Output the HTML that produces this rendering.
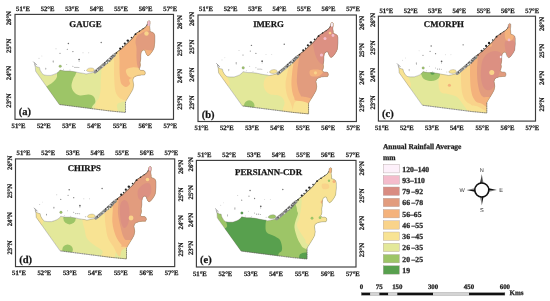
<!DOCTYPE html>
<html><head><meta charset="utf-8"><title>Annual Rainfall Average</title>
<style>html,body{margin:0;padding:0;background:#fff;}svg{display:block;}</style></head>
<body><svg width="550" height="301" viewBox="0 0 550 301">
<rect width="550" height="301" fill="#fff"/>
<clipPath id="cpa"><path d="M19.5,49.1 L20.5,51.6 L22.5,52.6 L24.5,53.1 L25.0,55.6 L27.0,59.0 L29.0,60.6 L32.0,61.0 L36.0,61.0 L39.0,60.0 L41.4,59.0 L44.0,57.1 L45.0,55.6 L47.0,56.1 L50.0,56.6 L54.0,56.6 L58.0,57.1 L61.0,57.6 L63.0,58.1 L66.0,58.6 L69.0,59.0 L71.0,59.6 L74.0,59.0 L78.0,58.1 L80.0,57.1 L82.0,55.6 L84.6,53.2 L87.5,50.4 L93.3,45.6 L98.3,40.6 L102.5,37.2 L106.6,34.3 L110.8,30.2 L114.1,27.2 L117.4,23.9 L120.4,19.5 L122.8,17.9 L125.2,16.3 L127.6,14.7 L129.9,13.1 L131.5,11.6 L132.3,9.6 L132.7,7.2 L133.9,6.0 L135.1,6.8 L135.1,9.6 L134.7,12.0 L135.1,15.1 L135.1,17.1 L137.5,17.9 L139.1,19.1 L139.9,21.5 L139.9,26.9 L139.5,30.2 L139.1,33.6 L137.9,36.1 L136.2,38.6 L134.5,40.6 L132.9,41.5 L131.6,40.2 L130.8,38.6 L130.0,36.1 L128.7,35.6 L127.0,36.5 L126.2,38.1 L125.8,41.0 L125.8,44.4 L125.1,48.1 L125.4,50.6 L125.0,53.1 L124.1,54.7 L125.8,56.0 L128.3,56.0 L129.9,56.8 L130.3,58.9 L129.5,60.6 L126.6,60.6 L123.3,61.0 L120.8,61.8 L118.7,63.0 L117.9,65.5 L118.3,68.0 L118.7,70.6 L118.0,74.6 L116.4,77.6 L114.0,81.6 L111.5,85.6 L110.5,87.6 L110.5,98.1 L95.0,96.6 L44.3,90.1 L20.6,56.8 L20.3,52.6Z"/></clipPath>
<g transform="translate(15.0,14.4) scale(1.0000,1.0000)">
<circle cx="53.4" cy="29.2" r="0.75" fill="#6a6a6a"/>
<circle cx="86.2" cy="28.1" r="0.7" fill="#6a6a6a"/>
<circle cx="52.3" cy="34.9" r="0.6" fill="#909090"/>
<circle cx="57.9" cy="37.2" r="0.65" fill="#808080"/>
<circle cx="64.1" cy="45.1" r="0.85" fill="#606060"/>
<circle cx="64.1" cy="46.8" r="0.45" fill="#888"/>
<circle cx="45.0" cy="38.9" r="0.6" fill="#888"/>
<circle cx="38.2" cy="46.8" r="0.6" fill="#808080"/>
<circle cx="38.2" cy="48.0" r="0.45" fill="#909090"/>
<circle cx="30.8" cy="53.8" r="0.55" fill="#888"/>
<circle cx="30.8" cy="54.8" r="0.45" fill="#999"/>
<circle cx="41.0" cy="34.3" r="0.5" fill="#c0c0c0"/>
<circle cx="24.0" cy="43.9" r="0.5" fill="#c0c0c0"/>
<circle cx="26.9" cy="41.6" r="0.45" fill="#c8c8c8"/>
<circle cx="68.0" cy="38.3" r="0.5" fill="#c8c8c8"/>
<circle cx="73.7" cy="38.3" r="0.5" fill="#c8c8c8"/>
<circle cx="57.9" cy="51.8" r="0.5" fill="#999"/>
<circle cx="51.7" cy="50.1" r="0.5" fill="#bbb"/>
<circle cx="60.0" cy="53.0" r="0.6" fill="#9a9a9a"/>
<circle cx="62.0" cy="53.0" r="0.6" fill="#9a9a9a"/>
<circle cx="63.8" cy="53.2" r="0.5" fill="#9a9a9a"/>
<circle cx="69.5" cy="56.1" r="0.5" fill="#aaa"/>
<circle cx="48.5" cy="54.8" r="0.45" fill="#aaa"/>
<circle cx="55.0" cy="55.6" r="0.45" fill="#aaa"/>
<path d="M18.4,47.3 L21.8,50.7" stroke="#555" stroke-width="0.6"/>
<g clip-path="url(#cpa)">
<path d="M19.5,49.1 L20.5,51.6 L22.5,52.6 L24.5,53.1 L25.0,55.6 L27.0,59.0 L29.0,60.6 L32.0,61.0 L36.0,61.0 L39.0,60.0 L41.4,59.0 L44.0,57.1 L45.0,55.6 L47.0,56.1 L50.0,56.6 L54.0,56.6 L58.0,57.1 L61.0,57.6 L63.0,58.1 L66.0,58.6 L69.0,59.0 L71.0,59.6 L74.0,59.0 L78.0,58.1 L80.0,57.1 L82.0,55.6 L84.6,53.2 L87.5,50.4 L93.3,45.6 L98.3,40.6 L102.5,37.2 L106.6,34.3 L110.8,30.2 L114.1,27.2 L117.4,23.9 L120.4,19.5 L122.8,17.9 L125.2,16.3 L127.6,14.7 L129.9,13.1 L131.5,11.6 L132.3,9.6 L132.7,7.2 L133.9,6.0 L135.1,6.8 L135.1,9.6 L134.7,12.0 L135.1,15.1 L135.1,17.1 L137.5,17.9 L139.1,19.1 L139.9,21.5 L139.9,26.9 L139.5,30.2 L139.1,33.6 L137.9,36.1 L136.2,38.6 L134.5,40.6 L132.9,41.5 L131.6,40.2 L130.8,38.6 L130.0,36.1 L128.7,35.6 L127.0,36.5 L126.2,38.1 L125.8,41.0 L125.8,44.4 L125.1,48.1 L125.4,50.6 L125.0,53.1 L124.1,54.7 L125.8,56.0 L128.3,56.0 L129.9,56.8 L130.3,58.9 L129.5,60.6 L126.6,60.6 L123.3,61.0 L120.8,61.8 L118.7,63.0 L117.9,65.5 L118.3,68.0 L118.7,70.6 L118.0,74.6 L116.4,77.6 L114.0,81.6 L111.5,85.6 L110.5,87.6 L110.5,98.1 L95.0,96.6 L44.3,90.1 L20.6,56.8 L20.3,52.6Z" fill="#e3e89a"/>
<path d="M43.5,51.6 C46.9,49.7 59.1,50.3 62.0,51.6 C64.9,52.9 61.4,57.2 60.8,59.4 C60.2,61.6 58.9,62.6 58.2,64.6 C57.5,66.6 56.4,69.4 56.5,71.6 C56.6,73.8 57.6,76.0 59.0,77.6 C60.4,79.2 62.5,80.6 65.0,81.0 C67.5,81.4 71.4,79.8 73.7,80.1 C76.0,80.4 77.9,81.3 79.0,82.6 C80.1,83.9 80.6,86.3 80.3,87.9 C80.0,89.5 78.1,90.2 77.2,92.2 C76.3,94.1 81.2,98.4 75.0,99.6 C68.8,100.8 48.3,103.3 40.0,99.6 C31.7,95.9 26.3,82.3 25.0,77.6 C23.7,72.9 30.2,73.2 32.3,71.6 C34.4,70.0 35.9,69.5 37.5,68.1 C39.1,66.6 40.8,65.6 41.8,62.9 C42.8,60.1 40.1,53.5 43.5,51.6Z" fill="#9dc567"/>
<path d="M86.0,45.6 C86.1,55.3 86.5,50.3 86.5,53.6 C86.5,56.9 86.0,61.9 85.8,65.6 C85.6,69.3 85.8,72.6 85.5,75.6 C85.2,78.6 84.8,81.4 84.0,83.6 C83.2,85.8 81.7,85.6 81.0,88.6 C80.3,91.6 76.6,99.4 80.0,101.6 C83.4,103.8 97.8,103.4 101.5,101.6 C105.2,99.8 101.2,92.8 102.0,90.6 C102.8,88.3 104.5,88.7 106.0,88.1 C107.5,87.5 103.7,87.5 111.0,87.1 C118.3,86.7 143.5,100.8 150.0,85.6 C156.5,70.3 160.7,10.6 150.0,-4.4 C139.3,-19.4 96.7,-12.7 86.0,-4.4 C75.3,3.9 85.9,35.9 86.0,45.6Z" fill="#f8e393"/>
<path d="M98.0,37.6 C98.2,45.9 98.8,42.6 99.0,45.6 C99.2,48.6 99.0,52.3 99.0,55.6 C99.0,58.9 99.0,62.0 99.3,65.6 C99.5,69.2 99.7,74.3 100.5,77.2 C101.3,80.1 102.5,81.5 104.0,83.0 C105.5,84.5 108.0,85.5 109.8,85.9 C111.6,86.3 108.3,85.6 115.0,85.6 C121.7,85.5 144.2,100.6 150.0,85.6 C155.8,70.6 158.7,10.6 150.0,-4.4 C141.3,-19.4 106.7,-11.4 98.0,-4.4 C89.3,2.6 97.8,29.3 98.0,37.6Z" fill="#f9d38a"/>
<path d="M104.0,31.6 C104.1,39.9 104.4,41.6 104.5,45.6 C104.6,49.6 104.4,52.6 104.5,55.6 C104.6,58.6 104.7,61.3 105.0,63.6 C105.3,65.9 105.5,68.1 106.5,69.6 C107.5,71.1 109.6,72.6 111.0,72.6 C112.4,72.6 114.0,71.1 115.0,69.6 C116.0,68.1 111.2,64.8 117.0,63.6 C122.8,62.4 144.5,73.9 150.0,62.6 C155.5,51.3 157.7,6.8 150.0,-4.4 C142.3,-15.6 111.7,-10.4 104.0,-4.4 C96.3,1.6 103.9,23.3 104.0,31.6Z" fill="#f4b27c"/>
<path d="M111.0,55.6 C111.7,54.2 114.8,53.4 117.0,53.1 C119.2,52.8 121.7,53.0 124.0,53.6 C126.3,54.2 129.8,55.4 131.0,56.6 C132.2,57.8 132.2,59.6 131.0,60.6 C129.8,61.6 126.2,62.1 124.0,62.6 C121.8,63.1 119.8,63.8 118.0,63.6 C116.2,63.4 114.2,62.9 113.0,61.6 C111.8,60.3 110.3,57.0 111.0,55.6Z" fill="#f9d38a"/>
<path d="M122.0,21.6 C122.9,20.2 124.5,19.9 126.0,19.1 C127.5,18.3 129.3,17.0 131.0,16.6 C132.7,16.2 134.3,16.1 136.0,16.6 C137.7,17.1 140.2,16.4 141.0,19.6 C141.8,22.8 141.7,32.8 141.0,35.6 C140.3,38.4 138.5,36.6 137.0,36.6 C135.5,36.6 133.5,35.8 132.0,35.6 C130.5,35.4 129.0,34.8 128.0,35.6 C127.0,36.4 126.2,38.1 126.0,40.6 C125.8,43.1 126.7,48.3 126.5,50.6 C126.3,52.9 125.7,54.4 125.0,54.6 C124.3,54.8 123.1,53.4 122.5,51.6 C121.9,49.8 121.7,46.6 121.5,43.6 C121.3,40.6 121.7,36.3 121.5,33.6 C121.3,30.9 120.4,29.6 120.5,27.6 C120.6,25.6 121.1,23.0 122.0,21.6Z" fill="#e29c7e"/>
<path d="M131.0,37.6 C131.5,36.6 133.8,36.2 135.0,36.1 C136.2,36.0 137.8,36.2 138.0,37.1 C138.2,38.0 137.0,40.8 136.0,41.6 C135.0,42.4 132.8,42.8 132.0,42.1 C131.2,41.4 130.5,38.6 131.0,37.6Z" fill="#f4b27c"/>
<ellipse cx="131.5" cy="19.1" rx="2.20" ry="2.20" fill="#f9d38a"/>
<path d="M132.2,5.1 C132.8,4.1 135.4,4.1 136.0,5.1 C136.6,6.1 136.2,10.2 135.6,11.2 C135.0,12.2 133.1,12.2 132.5,11.2 C131.9,10.2 131.6,6.1 132.2,5.1Z" fill="#f4bccc"/>
</g>
<path d="M19.5,49.1 L20.5,51.6 L22.5,52.6 L24.5,53.1 L25.0,55.6 L27.0,59.0 L29.0,60.6 L32.0,61.0 L36.0,61.0 L39.0,60.0 L41.4,59.0 L44.0,57.1 L45.0,55.6 L47.0,56.1 L50.0,56.6 L54.0,56.6 L58.0,57.1 L61.0,57.6 L63.0,58.1 L66.0,58.6 L69.0,59.0 L71.0,59.6 L74.0,59.0 L78.0,58.1 L80.0,57.1 L82.0,55.6 L84.6,53.2 L87.5,50.4 L93.3,45.6 L98.3,40.6 L102.5,37.2 L106.6,34.3 L110.8,30.2 L114.1,27.2 L117.4,23.9 L120.4,19.5 L122.8,17.9 L125.2,16.3 L127.6,14.7 L129.9,13.1 L131.5,11.6 L132.3,9.6 L132.7,7.2 L133.9,6.0 L135.1,6.8 L135.1,9.6 L134.7,12.0 L135.1,15.1 L135.1,17.1 L137.5,17.9 L139.1,19.1 L139.9,21.5 L139.9,26.9 L139.5,30.2 L139.1,33.6 L137.9,36.1 L136.2,38.6 L134.5,40.6 L132.9,41.5 L131.6,40.2 L130.8,38.6 L130.0,36.1 L128.7,35.6 L127.0,36.5 L126.2,38.1 L125.8,41.0 L125.8,44.4 L125.1,48.1 L125.4,50.6 L125.0,53.1 L124.1,54.7 L125.8,56.0 L128.3,56.0 L129.9,56.8 L130.3,58.9 L129.5,60.6 L126.6,60.6 L123.3,61.0 L120.8,61.8 L118.7,63.0 L117.9,65.5 L118.3,68.0 L118.7,70.6 L118.0,74.6 L116.4,77.6 L114.0,81.6 L111.5,85.6 L110.5,87.6 L110.5,98.1 L95.0,96.6 L44.3,90.1 L20.6,56.8 L20.3,52.6Z" fill="none" stroke="#6b6b6b" stroke-width="0.35"/>
<path d="M110.5,87.6 L110.5,98.1 L95.0,96.6 L44.3,90.1" fill="none" stroke="#555" stroke-width="0.6" stroke-dasharray="1 0.8"/>
<path d="M80.0,57.6 L83.0,55.1 L86.0,52.6 L89.0,50.1 L92.0,47.4 L95.0,44.6 L97.5,42.2 L99.5,40.4" fill="none" stroke="#939393" stroke-width="3.0" stroke-linecap="round"/>
<circle cx="86.0" cy="52.3" r="0.72" fill="#333"/>
<circle cx="82.2" cy="56.9" r="0.37" fill="#444"/>
<circle cx="88.1" cy="49.0" r="0.38" fill="#6a6a6a"/>
<circle cx="92.9" cy="47.8" r="0.78" fill="#fff"/>
<circle cx="91.9" cy="48.4" r="0.60" fill="#333"/>
<circle cx="82.6" cy="55.4" r="0.49" fill="#fff"/>
<circle cx="96.0" cy="43.1" r="0.43" fill="#d0d0d0"/>
<circle cx="82.6" cy="56.0" r="0.44" fill="#fff"/>
<circle cx="94.1" cy="44.8" r="0.77" fill="#fff"/>
<circle cx="87.0" cy="50.5" r="0.46" fill="#8fa070"/>
<circle cx="92.1" cy="48.2" r="0.55" fill="#d0d0d0"/>
<circle cx="91.8" cy="46.7" r="0.69" fill="#444"/>
<circle cx="83.2" cy="53.8" r="0.38" fill="#d0d0d0"/>
<circle cx="92.4" cy="48.4" r="0.66" fill="#555"/>
<circle cx="92.7" cy="46.8" r="0.39" fill="#8fa070"/>
<circle cx="86.1" cy="51.8" r="0.67" fill="#d0d0d0"/>
<circle cx="94.8" cy="46.7" r="0.67" fill="#555"/>
<circle cx="97.6" cy="42.9" r="0.43" fill="#555"/>
<circle cx="81.4" cy="56.2" r="0.68" fill="#444"/>
<circle cx="89.4" cy="50.6" r="0.55" fill="#444"/>
<circle cx="92.5" cy="48.6" r="0.60" fill="#8fa070"/>
<circle cx="96.0" cy="45.2" r="0.78" fill="#6a6a6a"/>
<circle cx="82.4" cy="54.3" r="0.36" fill="#444"/>
<circle cx="96.3" cy="42.1" r="0.54" fill="#444"/>
<circle cx="87.9" cy="52.2" r="0.74" fill="#d0d0d0"/>
<circle cx="99.2" cy="41.6" r="0.75" fill="#6a6a6a"/>
<circle cx="97.0" cy="44.2" r="0.53" fill="#6a6a6a"/>
<circle cx="88.2" cy="50.5" r="0.38" fill="#444"/>
<circle cx="83.6" cy="53.6" r="0.40" fill="#333"/>
<circle cx="92.0" cy="48.6" r="0.36" fill="#fff"/>
<circle cx="98.0" cy="41.1" r="0.78" fill="#555"/>
<circle cx="92.6" cy="45.9" r="0.80" fill="#6a6a6a"/>
<circle cx="89.7" cy="48.4" r="0.69" fill="#333"/>
<circle cx="95.4" cy="44.6" r="0.36" fill="#fff"/>
<circle cx="98.9" cy="40.2" r="0.76" fill="#fff"/>
<circle cx="95.3" cy="44.2" r="0.66" fill="#333"/>
<circle cx="85.2" cy="52.2" r="0.45" fill="#8fa070"/>
<circle cx="91.4" cy="48.3" r="0.72" fill="#fff"/>
<circle cx="100.1" cy="41.3" r="0.53" fill="#8fa070"/>
<circle cx="95.8" cy="43.1" r="0.36" fill="#d0d0d0"/>
<path d="M71.5,56.1 C71.4,55.5 72.6,54.4 73.5,54.0 C74.4,53.6 76.0,53.4 77.0,53.6 C78.0,53.8 79.0,54.4 79.2,55.0 C79.4,55.6 78.9,56.6 78.0,57.0 C77.1,57.4 75.1,57.5 74.0,57.4 C72.9,57.2 71.6,56.7 71.5,56.1Z" fill="#f8e393" stroke="#777" stroke-width="0.3"/>
<circle cx="45.2" cy="51.8" r="1.3" fill="#9dc567" stroke="#777" stroke-width="0.2"/>
<path d="M98.3,40.6 L102.5,37.2 L106.6,34.3 L110.8,30.2 L114.1,27.2 L117.4,23.9 L120.4,19.5 L122.8,17.9 L125.2,16.3 L127.6,14.7 L129.9,13.1 L131.5,11.6 L132.3,9.6" fill="none" stroke="#333" stroke-width="0.5"/>
<circle cx="101.5" cy="38.6" r="0.8" fill="#222"/>
<circle cx="105.2" cy="34.2" r="1.1" fill="#222"/>
<circle cx="107.5" cy="32.1" r="0.7" fill="#222"/>
<circle cx="109.8" cy="29.2" r="1.1" fill="#222"/>
<circle cx="112.8" cy="26.2" r="1.2" fill="#222"/>
<circle cx="116.5" cy="23.2" r="0.8" fill="#222"/>
<circle cx="120.5" cy="19.8" r="0.9" fill="#222"/>
<circle cx="124.5" cy="16.8" r="0.7" fill="#222"/>
<circle cx="128.0" cy="14.4" r="0.5" fill="#222"/>
</g>
<rect x="15" y="14.4" width="158.5" height="104.9" fill="none" stroke="#3c3c3c" stroke-width="1.15"/>
<text x="23.0" y="10.7" text-anchor="middle" style="font-family:'Liberation Serif','Times New Roman',serif;font-weight:bold;stroke:#222;stroke-width:0.25px;text-rendering:geometricPrecision;font-size:6.7px" fill="#222">51°E</text>
<text x="18.5" y="127.8" text-anchor="middle" style="font-family:'Liberation Serif','Times New Roman',serif;font-weight:bold;stroke:#222;stroke-width:0.25px;text-rendering:geometricPrecision;font-size:6.7px" fill="#222">51°E</text>
<text x="47.6" y="10.7" text-anchor="middle" style="font-family:'Liberation Serif','Times New Roman',serif;font-weight:bold;stroke:#222;stroke-width:0.25px;text-rendering:geometricPrecision;font-size:6.7px" fill="#222">52°E</text>
<text x="43.8" y="127.8" text-anchor="middle" style="font-family:'Liberation Serif','Times New Roman',serif;font-weight:bold;stroke:#222;stroke-width:0.25px;text-rendering:geometricPrecision;font-size:6.7px" fill="#222">52°E</text>
<text x="72.1" y="10.7" text-anchor="middle" style="font-family:'Liberation Serif','Times New Roman',serif;font-weight:bold;stroke:#222;stroke-width:0.25px;text-rendering:geometricPrecision;font-size:6.7px" fill="#222">53°E</text>
<text x="69.1" y="127.8" text-anchor="middle" style="font-family:'Liberation Serif','Times New Roman',serif;font-weight:bold;stroke:#222;stroke-width:0.25px;text-rendering:geometricPrecision;font-size:6.7px" fill="#222">53°E</text>
<text x="96.6" y="10.7" text-anchor="middle" style="font-family:'Liberation Serif','Times New Roman',serif;font-weight:bold;stroke:#222;stroke-width:0.25px;text-rendering:geometricPrecision;font-size:6.7px" fill="#222">54°E</text>
<text x="94.2" y="127.8" text-anchor="middle" style="font-family:'Liberation Serif','Times New Roman',serif;font-weight:bold;stroke:#222;stroke-width:0.25px;text-rendering:geometricPrecision;font-size:6.7px" fill="#222">54°E</text>
<text x="121.1" y="10.7" text-anchor="middle" style="font-family:'Liberation Serif','Times New Roman',serif;font-weight:bold;stroke:#222;stroke-width:0.25px;text-rendering:geometricPrecision;font-size:6.7px" fill="#222">55°E</text>
<text x="119.8" y="127.8" text-anchor="middle" style="font-family:'Liberation Serif','Times New Roman',serif;font-weight:bold;stroke:#222;stroke-width:0.25px;text-rendering:geometricPrecision;font-size:6.7px" fill="#222">55°E</text>
<text x="145.6" y="10.7" text-anchor="middle" style="font-family:'Liberation Serif','Times New Roman',serif;font-weight:bold;stroke:#222;stroke-width:0.25px;text-rendering:geometricPrecision;font-size:6.7px" fill="#222">56°E</text>
<text x="145.3" y="127.8" text-anchor="middle" style="font-family:'Liberation Serif','Times New Roman',serif;font-weight:bold;stroke:#222;stroke-width:0.25px;text-rendering:geometricPrecision;font-size:6.7px" fill="#222">56°E</text>
<text x="170.2" y="10.7" text-anchor="middle" style="font-family:'Liberation Serif','Times New Roman',serif;font-weight:bold;stroke:#222;stroke-width:0.25px;text-rendering:geometricPrecision;font-size:6.7px" fill="#222">57°E</text>
<text x="170.4" y="127.8" text-anchor="middle" style="font-family:'Liberation Serif','Times New Roman',serif;font-weight:bold;stroke:#222;stroke-width:0.25px;text-rendering:geometricPrecision;font-size:6.7px" fill="#222">57°E</text>
<text transform="translate(9.2,18.2) rotate(-90)" x="0" y="2.2" text-anchor="middle" style="font-family:'Liberation Serif','Times New Roman',serif;font-weight:bold;stroke:#222;stroke-width:0.25px;text-rendering:geometricPrecision;font-size:6.7px" fill="#222">26°N</text>
<text transform="translate(179.3,22.2) rotate(-90)" x="0" y="2.2" text-anchor="middle" style="font-family:'Liberation Serif','Times New Roman',serif;font-weight:bold;stroke:#222;stroke-width:0.25px;text-rendering:geometricPrecision;font-size:6.7px" fill="#222">26°N</text>
<text transform="translate(9.2,45.8) rotate(-90)" x="0" y="2.2" text-anchor="middle" style="font-family:'Liberation Serif','Times New Roman',serif;font-weight:bold;stroke:#222;stroke-width:0.25px;text-rendering:geometricPrecision;font-size:6.7px" fill="#222">25°N</text>
<text transform="translate(179.3,49.1) rotate(-90)" x="0" y="2.2" text-anchor="middle" style="font-family:'Liberation Serif','Times New Roman',serif;font-weight:bold;stroke:#222;stroke-width:0.25px;text-rendering:geometricPrecision;font-size:6.7px" fill="#222">25°N</text>
<text transform="translate(9.2,73.1) rotate(-90)" x="0" y="2.2" text-anchor="middle" style="font-family:'Liberation Serif','Times New Roman',serif;font-weight:bold;stroke:#222;stroke-width:0.25px;text-rendering:geometricPrecision;font-size:6.7px" fill="#222">24°N</text>
<text transform="translate(179.3,76.1) rotate(-90)" x="0" y="2.2" text-anchor="middle" style="font-family:'Liberation Serif','Times New Roman',serif;font-weight:bold;stroke:#222;stroke-width:0.25px;text-rendering:geometricPrecision;font-size:6.7px" fill="#222">24°N</text>
<text transform="translate(9.2,100.6) rotate(-90)" x="0" y="2.2" text-anchor="middle" style="font-family:'Liberation Serif','Times New Roman',serif;font-weight:bold;stroke:#222;stroke-width:0.25px;text-rendering:geometricPrecision;font-size:6.7px" fill="#222">23°N</text>
<text transform="translate(179.3,102.7) rotate(-90)" x="0" y="2.2" text-anchor="middle" style="font-family:'Liberation Serif','Times New Roman',serif;font-weight:bold;stroke:#222;stroke-width:0.25px;text-rendering:geometricPrecision;font-size:6.7px" fill="#222">23°N</text>
<text x="85.45" y="26.8" text-anchor="middle" style="font-family:'Liberation Serif','Times New Roman',serif;font-weight:bold;stroke:#222;stroke-width:0.25px;text-rendering:geometricPrecision;font-size:8.8px" fill="#111">GAUGE</text>
<text x="18.7" y="115.4" style="font-family:'Liberation Serif','Times New Roman',serif;font-weight:bold;stroke:#222;stroke-width:0.25px;text-rendering:geometricPrecision;font-size:10.5px" fill="#111">(a)</text>
<clipPath id="cpb"><path d="M19.5,49.1 L20.5,51.6 L22.5,52.6 L24.5,53.1 L25.0,55.6 L27.0,59.0 L29.0,60.6 L32.0,61.0 L36.0,61.0 L39.0,60.0 L41.4,59.0 L44.0,57.1 L45.0,55.6 L47.0,56.1 L50.0,56.6 L54.0,56.6 L58.0,57.1 L61.0,57.6 L63.0,58.1 L66.0,58.6 L69.0,59.0 L71.0,59.6 L74.0,59.0 L78.0,58.1 L80.0,57.1 L82.0,55.6 L84.6,53.2 L87.5,50.4 L93.3,45.6 L98.3,40.6 L102.5,37.2 L106.6,34.3 L110.8,30.2 L114.1,27.2 L117.4,23.9 L120.4,19.5 L122.8,17.9 L125.2,16.3 L127.6,14.7 L129.9,13.1 L131.5,11.6 L132.3,9.6 L132.7,7.2 L133.9,6.0 L135.1,6.8 L135.1,9.6 L134.7,12.0 L135.1,15.1 L135.1,17.1 L137.5,17.9 L139.1,19.1 L139.9,21.5 L139.9,26.9 L139.5,30.2 L139.1,33.6 L137.9,36.1 L136.2,38.6 L134.5,40.6 L132.9,41.5 L131.6,40.2 L130.8,38.6 L130.0,36.1 L128.7,35.6 L127.0,36.5 L126.2,38.1 L125.8,41.0 L125.8,44.4 L125.1,48.1 L125.4,50.6 L125.0,53.1 L124.1,54.7 L125.8,56.0 L128.3,56.0 L129.9,56.8 L130.3,58.9 L129.5,60.6 L126.6,60.6 L123.3,61.0 L120.8,61.8 L118.7,63.0 L117.9,65.5 L118.3,68.0 L118.7,70.6 L118.0,74.6 L116.4,77.6 L114.0,81.6 L111.5,85.6 L110.5,87.6 L110.5,98.1 L95.0,96.6 L44.3,90.1 L20.6,56.8 L20.3,52.6Z"/></clipPath>
<g transform="translate(197.95,16.33) scale(1.0011,0.9946)">
<circle cx="53.4" cy="29.2" r="0.75" fill="#6a6a6a"/>
<circle cx="86.2" cy="28.1" r="0.7" fill="#6a6a6a"/>
<circle cx="52.3" cy="34.9" r="0.6" fill="#909090"/>
<circle cx="57.9" cy="37.2" r="0.65" fill="#808080"/>
<circle cx="64.1" cy="45.1" r="0.85" fill="#606060"/>
<circle cx="64.1" cy="46.8" r="0.45" fill="#888"/>
<circle cx="45.0" cy="38.9" r="0.6" fill="#888"/>
<circle cx="38.2" cy="46.8" r="0.6" fill="#808080"/>
<circle cx="38.2" cy="48.0" r="0.45" fill="#909090"/>
<circle cx="30.8" cy="53.8" r="0.55" fill="#888"/>
<circle cx="30.8" cy="54.8" r="0.45" fill="#999"/>
<circle cx="41.0" cy="34.3" r="0.5" fill="#c0c0c0"/>
<circle cx="24.0" cy="43.9" r="0.5" fill="#c0c0c0"/>
<circle cx="26.9" cy="41.6" r="0.45" fill="#c8c8c8"/>
<circle cx="68.0" cy="38.3" r="0.5" fill="#c8c8c8"/>
<circle cx="73.7" cy="38.3" r="0.5" fill="#c8c8c8"/>
<circle cx="57.9" cy="51.8" r="0.5" fill="#999"/>
<circle cx="51.7" cy="50.1" r="0.5" fill="#bbb"/>
<circle cx="60.0" cy="53.0" r="0.6" fill="#9a9a9a"/>
<circle cx="62.0" cy="53.0" r="0.6" fill="#9a9a9a"/>
<circle cx="63.8" cy="53.2" r="0.5" fill="#9a9a9a"/>
<circle cx="69.5" cy="56.1" r="0.5" fill="#aaa"/>
<circle cx="48.5" cy="54.8" r="0.45" fill="#aaa"/>
<circle cx="55.0" cy="55.6" r="0.45" fill="#aaa"/>
<path d="M18.4,47.3 L21.8,50.7" stroke="#555" stroke-width="0.6"/>
<g clip-path="url(#cpb)">
<path d="M19.5,49.1 L20.5,51.6 L22.5,52.6 L24.5,53.1 L25.0,55.6 L27.0,59.0 L29.0,60.6 L32.0,61.0 L36.0,61.0 L39.0,60.0 L41.4,59.0 L44.0,57.1 L45.0,55.6 L47.0,56.1 L50.0,56.6 L54.0,56.6 L58.0,57.1 L61.0,57.6 L63.0,58.1 L66.0,58.6 L69.0,59.0 L71.0,59.6 L74.0,59.0 L78.0,58.1 L80.0,57.1 L82.0,55.6 L84.6,53.2 L87.5,50.4 L93.3,45.6 L98.3,40.6 L102.5,37.2 L106.6,34.3 L110.8,30.2 L114.1,27.2 L117.4,23.9 L120.4,19.5 L122.8,17.9 L125.2,16.3 L127.6,14.7 L129.9,13.1 L131.5,11.6 L132.3,9.6 L132.7,7.2 L133.9,6.0 L135.1,6.8 L135.1,9.6 L134.7,12.0 L135.1,15.1 L135.1,17.1 L137.5,17.9 L139.1,19.1 L139.9,21.5 L139.9,26.9 L139.5,30.2 L139.1,33.6 L137.9,36.1 L136.2,38.6 L134.5,40.6 L132.9,41.5 L131.6,40.2 L130.8,38.6 L130.0,36.1 L128.7,35.6 L127.0,36.5 L126.2,38.1 L125.8,41.0 L125.8,44.4 L125.1,48.1 L125.4,50.6 L125.0,53.1 L124.1,54.7 L125.8,56.0 L128.3,56.0 L129.9,56.8 L130.3,58.9 L129.5,60.6 L126.6,60.6 L123.3,61.0 L120.8,61.8 L118.7,63.0 L117.9,65.5 L118.3,68.0 L118.7,70.6 L118.0,74.6 L116.4,77.6 L114.0,81.6 L111.5,85.6 L110.5,87.6 L110.5,98.1 L95.0,96.6 L44.3,90.1 L20.6,56.8 L20.3,52.6Z" fill="#e3e89a"/>
<path d="M18.0,49.9 C18.5,48.8 22.2,52.1 24.0,54.0 C25.9,55.8 27.8,58.7 29.0,61.0 C30.3,63.3 31.8,66.5 31.5,68.0 C31.2,69.5 28.8,71.2 27.0,70.0 C25.3,68.9 22.5,64.4 21.0,61.0 C19.5,57.6 17.5,51.1 18.0,49.9Z" fill="#f8e393"/>
<ellipse cx="51.2" cy="89.8" rx="5.29" ry="5.33" fill="#9dc567"/>
<path d="M73.6,43.9 C73.5,54.5 74.7,54.1 73.6,57.3 C72.5,60.4 68.2,60.3 67.0,62.7 C65.7,65.1 65.2,68.9 66.0,71.5 C66.7,74.0 68.7,76.6 71.4,78.0 C74.1,79.4 79.6,78.7 82.2,80.1 C84.7,81.5 86.1,84.1 86.5,86.6 C86.8,89.2 84.8,91.4 84.4,95.2 C83.9,99.0 74.4,106.9 84.0,109.3 C93.5,111.6 132.2,128.5 141.9,109.3 C151.5,90.0 153.2,12.9 141.9,-6.4 C130.6,-25.6 85.4,-14.7 74.0,-6.4 C62.6,2.0 73.6,33.3 73.6,43.9Z" fill="#f8e393"/>
<path d="M90.0,23.8 C90.3,32.2 92.0,38.5 91.9,43.9 C91.9,49.3 90.2,52.0 89.5,56.0 C88.7,60.0 87.5,64.2 87.5,68.0 C87.4,71.9 88.0,75.7 89.0,79.1 C89.9,82.4 91.9,85.3 92.9,88.1 C93.9,91.0 94.6,92.7 94.9,96.2 C95.3,99.7 87.1,107.1 94.9,109.3 C102.8,111.4 134.1,128.5 141.9,109.3 C149.7,90.0 150.6,12.9 141.9,-6.4 C133.2,-25.6 98.6,-11.4 90.0,-6.4 C81.3,-1.3 89.6,15.4 90.0,23.8Z" fill="#f9d38a"/>
<path d="M95.9,88.1 C97.1,84.1 99.9,85.5 101.9,85.1 C103.9,84.8 106.3,85.0 107.9,86.1 C109.6,87.3 111.3,88.3 111.9,92.2 C112.6,96.0 114.8,106.4 111.9,109.3 C109.1,112.1 97.6,112.8 94.9,109.3 C92.3,105.7 94.8,92.2 95.9,88.1Z" fill="#f8e393"/>
<path d="M93.9,23.8 C94.4,31.3 96.4,33.9 96.4,38.9 C96.5,43.9 94.9,48.9 94.4,54.0 C93.9,59.0 93.2,64.5 93.4,69.0 C93.7,73.6 94.5,78.4 95.9,81.1 C97.4,83.8 94.3,84.6 101.9,85.1 C109.6,85.6 135.2,99.4 141.9,84.1 C148.6,68.9 149.9,8.7 141.9,-6.4 C133.9,-21.4 101.9,-11.4 93.9,-6.4 C86.0,-1.3 93.5,16.3 93.9,23.8Z" fill="#f4b27c"/>
<path d="M98.9,23.8 C99.3,31.3 100.9,33.9 100.9,38.9 C101.0,43.9 99.8,49.3 99.4,54.0 C99.1,58.7 98.5,63.0 98.9,67.0 C99.4,71.1 100.4,75.7 101.9,78.1 C103.4,80.4 101.3,80.6 107.9,81.1 C114.6,81.6 136.2,95.7 141.9,81.1 C147.6,66.5 149.1,8.2 141.9,-6.4 C134.7,-20.9 106.1,-11.4 98.9,-6.4 C91.8,-1.3 98.6,16.3 98.9,23.8Z" fill="#e29c7e"/>
<path d="M114.9,21.8 C115.8,17.9 119.1,16.8 121.9,14.7 C124.7,12.7 128.9,9.9 131.9,9.7 C134.9,9.6 138.6,8.4 139.9,13.7 C141.2,19.1 141.1,36.9 139.9,41.9 C138.7,46.9 134.9,42.9 132.9,43.9 C130.9,44.9 129.7,47.4 127.9,47.9 C126.1,48.4 123.7,48.6 121.9,46.9 C120.1,45.2 118.1,42.1 116.9,37.9 C115.8,33.7 114.1,25.6 114.9,21.8Z" fill="#dc9082"/>
<ellipse cx="123.4" cy="38.9" rx="1.60" ry="1.61" fill="#f4bccc"/>
<path d="M111.9,54.5 C112.9,53.4 116.8,53.3 118.9,53.5 C121.1,53.6 124.6,54.4 124.9,55.5 C125.2,56.6 122.9,59.2 120.9,60.0 C118.9,60.7 114.4,60.9 112.9,60.0 C111.4,59.1 110.9,55.6 111.9,54.5Z" fill="#f4b27c"/>
<ellipse cx="117.4" cy="56.8" rx="1.60" ry="1.61" fill="#f9d38a"/>
<ellipse cx="126.9" cy="22.3" rx="1.50" ry="1.51" fill="#f4bccc"/>
<ellipse cx="134.9" cy="19.3" rx="1.40" ry="1.41" fill="#f4bccc"/>
<path d="M131.9,4.7 C132.3,3.9 134.4,3.9 134.9,4.7 C135.4,5.5 135.3,8.9 134.9,9.7 C134.5,10.6 132.9,10.6 132.4,9.7 C131.9,8.9 131.5,5.5 131.9,4.7Z" fill="#fdf0fa"/>
<ellipse cx="131.9" cy="16.8" rx="1.30" ry="1.31" fill="#f9d38a"/>
</g>
<path d="M19.5,49.1 L20.5,51.6 L22.5,52.6 L24.5,53.1 L25.0,55.6 L27.0,59.0 L29.0,60.6 L32.0,61.0 L36.0,61.0 L39.0,60.0 L41.4,59.0 L44.0,57.1 L45.0,55.6 L47.0,56.1 L50.0,56.6 L54.0,56.6 L58.0,57.1 L61.0,57.6 L63.0,58.1 L66.0,58.6 L69.0,59.0 L71.0,59.6 L74.0,59.0 L78.0,58.1 L80.0,57.1 L82.0,55.6 L84.6,53.2 L87.5,50.4 L93.3,45.6 L98.3,40.6 L102.5,37.2 L106.6,34.3 L110.8,30.2 L114.1,27.2 L117.4,23.9 L120.4,19.5 L122.8,17.9 L125.2,16.3 L127.6,14.7 L129.9,13.1 L131.5,11.6 L132.3,9.6 L132.7,7.2 L133.9,6.0 L135.1,6.8 L135.1,9.6 L134.7,12.0 L135.1,15.1 L135.1,17.1 L137.5,17.9 L139.1,19.1 L139.9,21.5 L139.9,26.9 L139.5,30.2 L139.1,33.6 L137.9,36.1 L136.2,38.6 L134.5,40.6 L132.9,41.5 L131.6,40.2 L130.8,38.6 L130.0,36.1 L128.7,35.6 L127.0,36.5 L126.2,38.1 L125.8,41.0 L125.8,44.4 L125.1,48.1 L125.4,50.6 L125.0,53.1 L124.1,54.7 L125.8,56.0 L128.3,56.0 L129.9,56.8 L130.3,58.9 L129.5,60.6 L126.6,60.6 L123.3,61.0 L120.8,61.8 L118.7,63.0 L117.9,65.5 L118.3,68.0 L118.7,70.6 L118.0,74.6 L116.4,77.6 L114.0,81.6 L111.5,85.6 L110.5,87.6 L110.5,98.1 L95.0,96.6 L44.3,90.1 L20.6,56.8 L20.3,52.6Z" fill="none" stroke="#6b6b6b" stroke-width="0.35"/>
<path d="M110.5,87.6 L110.5,98.1 L95.0,96.6 L44.3,90.1" fill="none" stroke="#555" stroke-width="0.6" stroke-dasharray="1 0.8"/>
<path d="M80.0,57.6 L83.0,55.1 L86.0,52.6 L89.0,50.1 L92.0,47.4 L95.0,44.6 L97.5,42.2 L99.5,40.4" fill="none" stroke="#939393" stroke-width="3.0" stroke-linecap="round"/>
<circle cx="86.0" cy="52.3" r="0.72" fill="#333"/>
<circle cx="82.2" cy="56.9" r="0.37" fill="#444"/>
<circle cx="88.1" cy="49.0" r="0.38" fill="#6a6a6a"/>
<circle cx="92.9" cy="47.8" r="0.78" fill="#fff"/>
<circle cx="91.9" cy="48.4" r="0.60" fill="#333"/>
<circle cx="82.6" cy="55.4" r="0.49" fill="#fff"/>
<circle cx="96.0" cy="43.1" r="0.43" fill="#d0d0d0"/>
<circle cx="82.6" cy="56.0" r="0.44" fill="#fff"/>
<circle cx="94.1" cy="44.8" r="0.77" fill="#fff"/>
<circle cx="87.0" cy="50.5" r="0.46" fill="#8fa070"/>
<circle cx="92.1" cy="48.2" r="0.55" fill="#d0d0d0"/>
<circle cx="91.8" cy="46.7" r="0.69" fill="#444"/>
<circle cx="83.2" cy="53.8" r="0.38" fill="#d0d0d0"/>
<circle cx="92.4" cy="48.4" r="0.66" fill="#555"/>
<circle cx="92.7" cy="46.8" r="0.39" fill="#8fa070"/>
<circle cx="86.1" cy="51.8" r="0.67" fill="#d0d0d0"/>
<circle cx="94.8" cy="46.7" r="0.67" fill="#555"/>
<circle cx="97.6" cy="42.9" r="0.43" fill="#555"/>
<circle cx="81.4" cy="56.2" r="0.68" fill="#444"/>
<circle cx="89.4" cy="50.6" r="0.55" fill="#444"/>
<circle cx="92.5" cy="48.6" r="0.60" fill="#8fa070"/>
<circle cx="96.0" cy="45.2" r="0.78" fill="#6a6a6a"/>
<circle cx="82.4" cy="54.3" r="0.36" fill="#444"/>
<circle cx="96.3" cy="42.1" r="0.54" fill="#444"/>
<circle cx="87.9" cy="52.2" r="0.74" fill="#d0d0d0"/>
<circle cx="99.2" cy="41.6" r="0.75" fill="#6a6a6a"/>
<circle cx="97.0" cy="44.2" r="0.53" fill="#6a6a6a"/>
<circle cx="88.2" cy="50.5" r="0.38" fill="#444"/>
<circle cx="83.6" cy="53.6" r="0.40" fill="#333"/>
<circle cx="92.0" cy="48.6" r="0.36" fill="#fff"/>
<circle cx="98.0" cy="41.1" r="0.78" fill="#555"/>
<circle cx="92.6" cy="45.9" r="0.80" fill="#6a6a6a"/>
<circle cx="89.7" cy="48.4" r="0.69" fill="#333"/>
<circle cx="95.4" cy="44.6" r="0.36" fill="#fff"/>
<circle cx="98.9" cy="40.2" r="0.76" fill="#fff"/>
<circle cx="95.3" cy="44.2" r="0.66" fill="#333"/>
<circle cx="85.2" cy="52.2" r="0.45" fill="#8fa070"/>
<circle cx="91.4" cy="48.3" r="0.72" fill="#fff"/>
<circle cx="100.1" cy="41.3" r="0.53" fill="#8fa070"/>
<circle cx="95.8" cy="43.1" r="0.36" fill="#d0d0d0"/>
<path d="M71.5,56.1 C71.4,55.5 72.6,54.4 73.5,54.0 C74.4,53.6 76.0,53.4 77.0,53.6 C78.0,53.8 79.0,54.4 79.2,55.0 C79.4,55.6 78.9,56.6 78.0,57.0 C77.1,57.4 75.1,57.5 74.0,57.4 C72.9,57.2 71.6,56.7 71.5,56.1Z" fill="#f8e393" stroke="#777" stroke-width="0.3"/>
<circle cx="45.2" cy="51.8" r="1.3" fill="#9dc567" stroke="#777" stroke-width="0.2"/>
<path d="M98.3,40.6 L102.5,37.2 L106.6,34.3 L110.8,30.2 L114.1,27.2 L117.4,23.9 L120.4,19.5 L122.8,17.9 L125.2,16.3 L127.6,14.7 L129.9,13.1 L131.5,11.6 L132.3,9.6" fill="none" stroke="#333" stroke-width="0.5"/>
<circle cx="101.5" cy="38.6" r="0.8" fill="#222"/>
<circle cx="105.2" cy="34.2" r="1.1" fill="#222"/>
<circle cx="107.5" cy="32.1" r="0.7" fill="#222"/>
<circle cx="109.8" cy="29.2" r="1.1" fill="#222"/>
<circle cx="112.8" cy="26.2" r="1.2" fill="#222"/>
<circle cx="116.5" cy="23.2" r="0.8" fill="#222"/>
<circle cx="120.5" cy="19.8" r="0.9" fill="#222"/>
<circle cx="124.5" cy="16.8" r="0.7" fill="#222"/>
<circle cx="128.0" cy="14.4" r="0.5" fill="#222"/>
</g>
<rect x="198" y="15" width="158.4" height="106.5" fill="none" stroke="#3c3c3c" stroke-width="1.15"/>
<text x="206.0" y="11.3" text-anchor="middle" style="font-family:'Liberation Serif','Times New Roman',serif;font-weight:bold;stroke:#222;stroke-width:0.25px;text-rendering:geometricPrecision;font-size:6.7px" fill="#222">51°E</text>
<text x="201.5" y="130.0" text-anchor="middle" style="font-family:'Liberation Serif','Times New Roman',serif;font-weight:bold;stroke:#222;stroke-width:0.25px;text-rendering:geometricPrecision;font-size:6.7px" fill="#222">51°E</text>
<text x="230.6" y="11.3" text-anchor="middle" style="font-family:'Liberation Serif','Times New Roman',serif;font-weight:bold;stroke:#222;stroke-width:0.25px;text-rendering:geometricPrecision;font-size:6.7px" fill="#222">52°E</text>
<text x="226.8" y="130.0" text-anchor="middle" style="font-family:'Liberation Serif','Times New Roman',serif;font-weight:bold;stroke:#222;stroke-width:0.25px;text-rendering:geometricPrecision;font-size:6.7px" fill="#222">52°E</text>
<text x="255.1" y="11.3" text-anchor="middle" style="font-family:'Liberation Serif','Times New Roman',serif;font-weight:bold;stroke:#222;stroke-width:0.25px;text-rendering:geometricPrecision;font-size:6.7px" fill="#222">53°E</text>
<text x="252.1" y="130.0" text-anchor="middle" style="font-family:'Liberation Serif','Times New Roman',serif;font-weight:bold;stroke:#222;stroke-width:0.25px;text-rendering:geometricPrecision;font-size:6.7px" fill="#222">53°E</text>
<text x="279.5" y="11.3" text-anchor="middle" style="font-family:'Liberation Serif','Times New Roman',serif;font-weight:bold;stroke:#222;stroke-width:0.25px;text-rendering:geometricPrecision;font-size:6.7px" fill="#222">54°E</text>
<text x="277.2" y="130.0" text-anchor="middle" style="font-family:'Liberation Serif','Times New Roman',serif;font-weight:bold;stroke:#222;stroke-width:0.25px;text-rendering:geometricPrecision;font-size:6.7px" fill="#222">54°E</text>
<text x="304.0" y="11.3" text-anchor="middle" style="font-family:'Liberation Serif','Times New Roman',serif;font-weight:bold;stroke:#222;stroke-width:0.25px;text-rendering:geometricPrecision;font-size:6.7px" fill="#222">55°E</text>
<text x="302.7" y="130.0" text-anchor="middle" style="font-family:'Liberation Serif','Times New Roman',serif;font-weight:bold;stroke:#222;stroke-width:0.25px;text-rendering:geometricPrecision;font-size:6.7px" fill="#222">55°E</text>
<text x="328.5" y="11.3" text-anchor="middle" style="font-family:'Liberation Serif','Times New Roman',serif;font-weight:bold;stroke:#222;stroke-width:0.25px;text-rendering:geometricPrecision;font-size:6.7px" fill="#222">56°E</text>
<text x="328.2" y="130.0" text-anchor="middle" style="font-family:'Liberation Serif','Times New Roman',serif;font-weight:bold;stroke:#222;stroke-width:0.25px;text-rendering:geometricPrecision;font-size:6.7px" fill="#222">56°E</text>
<text x="353.1" y="11.3" text-anchor="middle" style="font-family:'Liberation Serif','Times New Roman',serif;font-weight:bold;stroke:#222;stroke-width:0.25px;text-rendering:geometricPrecision;font-size:6.7px" fill="#222">57°E</text>
<text x="353.3" y="130.0" text-anchor="middle" style="font-family:'Liberation Serif','Times New Roman',serif;font-weight:bold;stroke:#222;stroke-width:0.25px;text-rendering:geometricPrecision;font-size:6.7px" fill="#222">57°E</text>
<text transform="translate(192.2,18.9) rotate(-90)" x="0" y="2.2" text-anchor="middle" style="font-family:'Liberation Serif','Times New Roman',serif;font-weight:bold;stroke:#222;stroke-width:0.25px;text-rendering:geometricPrecision;font-size:6.7px" fill="#222">26°N</text>
<text transform="translate(362.2,22.9) rotate(-90)" x="0" y="2.2" text-anchor="middle" style="font-family:'Liberation Serif','Times New Roman',serif;font-weight:bold;stroke:#222;stroke-width:0.25px;text-rendering:geometricPrecision;font-size:6.7px" fill="#222">26°N</text>
<text transform="translate(192.2,46.8) rotate(-90)" x="0" y="2.2" text-anchor="middle" style="font-family:'Liberation Serif','Times New Roman',serif;font-weight:bold;stroke:#222;stroke-width:0.25px;text-rendering:geometricPrecision;font-size:6.7px" fill="#222">25°N</text>
<text transform="translate(362.2,50.2) rotate(-90)" x="0" y="2.2" text-anchor="middle" style="font-family:'Liberation Serif','Times New Roman',serif;font-weight:bold;stroke:#222;stroke-width:0.25px;text-rendering:geometricPrecision;font-size:6.7px" fill="#222">25°N</text>
<text transform="translate(192.2,74.6) rotate(-90)" x="0" y="2.2" text-anchor="middle" style="font-family:'Liberation Serif','Times New Roman',serif;font-weight:bold;stroke:#222;stroke-width:0.25px;text-rendering:geometricPrecision;font-size:6.7px" fill="#222">24°N</text>
<text transform="translate(362.2,77.7) rotate(-90)" x="0" y="2.2" text-anchor="middle" style="font-family:'Liberation Serif','Times New Roman',serif;font-weight:bold;stroke:#222;stroke-width:0.25px;text-rendering:geometricPrecision;font-size:6.7px" fill="#222">24°N</text>
<text transform="translate(192.2,102.5) rotate(-90)" x="0" y="2.2" text-anchor="middle" style="font-family:'Liberation Serif','Times New Roman',serif;font-weight:bold;stroke:#222;stroke-width:0.25px;text-rendering:geometricPrecision;font-size:6.7px" fill="#222">23°N</text>
<text transform="translate(362.2,104.6) rotate(-90)" x="0" y="2.2" text-anchor="middle" style="font-family:'Liberation Serif','Times New Roman',serif;font-weight:bold;stroke:#222;stroke-width:0.25px;text-rendering:geometricPrecision;font-size:6.7px" fill="#222">23°N</text>
<text x="268.55" y="27.1" text-anchor="middle" style="font-family:'Liberation Serif','Times New Roman',serif;font-weight:bold;stroke:#222;stroke-width:0.25px;text-rendering:geometricPrecision;font-size:8.8px" fill="#111">IMERG</text>
<text x="201.7" y="117.6" style="font-family:'Liberation Serif','Times New Roman',serif;font-weight:bold;stroke:#222;stroke-width:0.25px;text-rendering:geometricPrecision;font-size:10.5px" fill="#111">(b)</text>
<clipPath id="cpc"><path d="M19.5,49.1 L20.5,51.6 L22.5,52.6 L24.5,53.1 L25.0,55.6 L27.0,59.0 L29.0,60.6 L32.0,61.0 L36.0,61.0 L39.0,60.0 L41.4,59.0 L44.0,57.1 L45.0,55.6 L47.0,56.1 L50.0,56.6 L54.0,56.6 L58.0,57.1 L61.0,57.6 L63.0,58.1 L66.0,58.6 L69.0,59.0 L71.0,59.6 L74.0,59.0 L78.0,58.1 L80.0,57.1 L82.0,55.6 L84.6,53.2 L87.5,50.4 L93.3,45.6 L98.3,40.6 L102.5,37.2 L106.6,34.3 L110.8,30.2 L114.1,27.2 L117.4,23.9 L120.4,19.5 L122.8,17.9 L125.2,16.3 L127.6,14.7 L129.9,13.1 L131.5,11.6 L132.3,9.6 L132.7,7.2 L133.9,6.0 L135.1,6.8 L135.1,9.6 L134.7,12.0 L135.1,15.1 L135.1,17.1 L137.5,17.9 L139.1,19.1 L139.9,21.5 L139.9,26.9 L139.5,30.2 L139.1,33.6 L137.9,36.1 L136.2,38.6 L134.5,40.6 L132.9,41.5 L131.6,40.2 L130.8,38.6 L130.0,36.1 L128.7,35.6 L127.0,36.5 L126.2,38.1 L125.8,41.0 L125.8,44.4 L125.1,48.1 L125.4,50.6 L125.0,53.1 L124.1,54.7 L125.8,56.0 L128.3,56.0 L129.9,56.8 L130.3,58.9 L129.5,60.6 L126.6,60.6 L123.3,61.0 L120.8,61.8 L118.7,63.0 L117.9,65.5 L118.3,68.0 L118.7,70.6 L118.0,74.6 L116.4,77.6 L114.0,81.6 L111.5,85.6 L110.5,87.6 L110.5,98.1 L95.0,96.6 L44.3,90.1 L20.6,56.8 L20.3,52.6Z"/></clipPath>
<g transform="translate(379.14,17.46) scale(0.9743,0.9740)">
<circle cx="53.4" cy="29.2" r="0.75" fill="#6a6a6a"/>
<circle cx="86.2" cy="28.1" r="0.7" fill="#6a6a6a"/>
<circle cx="52.3" cy="34.9" r="0.6" fill="#909090"/>
<circle cx="57.9" cy="37.2" r="0.65" fill="#808080"/>
<circle cx="64.1" cy="45.1" r="0.85" fill="#606060"/>
<circle cx="64.1" cy="46.8" r="0.45" fill="#888"/>
<circle cx="45.0" cy="38.9" r="0.6" fill="#888"/>
<circle cx="38.2" cy="46.8" r="0.6" fill="#808080"/>
<circle cx="38.2" cy="48.0" r="0.45" fill="#909090"/>
<circle cx="30.8" cy="53.8" r="0.55" fill="#888"/>
<circle cx="30.8" cy="54.8" r="0.45" fill="#999"/>
<circle cx="41.0" cy="34.3" r="0.5" fill="#c0c0c0"/>
<circle cx="24.0" cy="43.9" r="0.5" fill="#c0c0c0"/>
<circle cx="26.9" cy="41.6" r="0.45" fill="#c8c8c8"/>
<circle cx="68.0" cy="38.3" r="0.5" fill="#c8c8c8"/>
<circle cx="73.7" cy="38.3" r="0.5" fill="#c8c8c8"/>
<circle cx="57.9" cy="51.8" r="0.5" fill="#999"/>
<circle cx="51.7" cy="50.1" r="0.5" fill="#bbb"/>
<circle cx="60.0" cy="53.0" r="0.6" fill="#9a9a9a"/>
<circle cx="62.0" cy="53.0" r="0.6" fill="#9a9a9a"/>
<circle cx="63.8" cy="53.2" r="0.5" fill="#9a9a9a"/>
<circle cx="69.5" cy="56.1" r="0.5" fill="#aaa"/>
<circle cx="48.5" cy="54.8" r="0.45" fill="#aaa"/>
<circle cx="55.0" cy="55.6" r="0.45" fill="#aaa"/>
<path d="M18.4,47.3 L21.8,50.7" stroke="#555" stroke-width="0.6"/>
<g clip-path="url(#cpc)">
<path d="M19.5,49.1 L20.5,51.6 L22.5,52.6 L24.5,53.1 L25.0,55.6 L27.0,59.0 L29.0,60.6 L32.0,61.0 L36.0,61.0 L39.0,60.0 L41.4,59.0 L44.0,57.1 L45.0,55.6 L47.0,56.1 L50.0,56.6 L54.0,56.6 L58.0,57.1 L61.0,57.6 L63.0,58.1 L66.0,58.6 L69.0,59.0 L71.0,59.6 L74.0,59.0 L78.0,58.1 L80.0,57.1 L82.0,55.6 L84.6,53.2 L87.5,50.4 L93.3,45.6 L98.3,40.6 L102.5,37.2 L106.6,34.3 L110.8,30.2 L114.1,27.2 L117.4,23.9 L120.4,19.5 L122.8,17.9 L125.2,16.3 L127.6,14.7 L129.9,13.1 L131.5,11.6 L132.3,9.6 L132.7,7.2 L133.9,6.0 L135.1,6.8 L135.1,9.6 L134.7,12.0 L135.1,15.1 L135.1,17.1 L137.5,17.9 L139.1,19.1 L139.9,21.5 L139.9,26.9 L139.5,30.2 L139.1,33.6 L137.9,36.1 L136.2,38.6 L134.5,40.6 L132.9,41.5 L131.6,40.2 L130.8,38.6 L130.0,36.1 L128.7,35.6 L127.0,36.5 L126.2,38.1 L125.8,41.0 L125.8,44.4 L125.1,48.1 L125.4,50.6 L125.0,53.1 L124.1,54.7 L125.8,56.0 L128.3,56.0 L129.9,56.8 L130.3,58.9 L129.5,60.6 L126.6,60.6 L123.3,61.0 L120.8,61.8 L118.7,63.0 L117.9,65.5 L118.3,68.0 L118.7,70.6 L118.0,74.6 L116.4,77.6 L114.0,81.6 L111.5,85.6 L110.5,87.6 L110.5,98.1 L95.0,96.6 L44.3,90.1 L20.6,56.8 L20.3,52.6Z" fill="#e3e89a"/>
<path d="M17.3,46.8 C18.0,45.0 22.6,49.0 24.5,50.9 C26.4,52.7 27.2,55.0 28.6,58.0 C30.0,61.1 32.7,66.9 32.7,69.3 C32.7,71.7 30.6,73.8 28.6,72.4 C26.5,71.1 22.3,65.4 20.4,61.1 C18.5,56.9 16.6,48.5 17.3,46.8Z" fill="#f8e393"/>
<path d="M43.0,51.9 C46.3,50.7 60.2,50.5 63.5,51.9 C66.7,53.3 63.3,58.0 62.5,60.1 C61.6,62.2 60.1,63.4 58.4,64.2 C56.6,65.1 54.3,65.4 52.2,65.2 C50.1,65.1 47.5,64.2 46.0,63.2 C44.6,62.2 44.0,61.0 43.5,59.1 C43.0,57.2 39.6,53.1 43.0,51.9Z" fill="#9dc567"/>
<ellipse cx="54.8" cy="56.5" rx="2.26" ry="2.26" fill="#58a04e"/>
<path d="M61.4,43.7 C61.4,54.7 62.5,55.0 62.5,58.5 C62.4,61.9 61.2,61.9 61.0,64.2 C60.9,66.5 60.9,70.2 61.4,72.4 C62.0,74.6 62.6,76.4 64.5,77.6 C66.4,78.7 70.2,78.4 72.7,79.1 C75.3,79.8 77.9,80.2 79.9,81.7 C82.0,83.1 83.3,85.6 85.0,87.8 C86.8,90.0 88.5,92.6 90.2,95.0 C91.9,97.4 89.7,101.0 95.3,102.2 C101.0,103.4 119.3,120.5 124.0,102.2 C128.8,83.9 134.3,10.7 124.0,-7.7 C113.8,-26.0 72.9,-16.2 62.5,-7.7 C52.0,0.9 61.4,32.7 61.4,43.7Z" fill="#f8e393"/>
<ellipse cx="72.1" cy="69.5" rx="1.54" ry="1.54" fill="#f4b27c"/>
<path d="M82.0,23.1 C82.3,32.7 83.7,43.0 84.0,49.8 C84.4,56.7 83.8,59.8 84.0,64.2 C84.2,68.7 84.4,73.1 85.0,76.5 C85.7,80.0 86.8,82.7 88.1,84.7 C89.5,86.8 91.4,87.8 93.3,88.9 C95.1,89.9 94.3,90.6 99.4,90.9 C104.5,91.2 119.9,107.3 124.0,90.9 C128.2,74.5 131.1,8.8 124.0,-7.7 C117.0,-24.1 89.0,-12.8 82.0,-7.7 C75.0,-2.5 81.6,13.6 82.0,23.1Z" fill="#f9d38a"/>
<path d="M91.2,23.1 C91.5,31.0 92.9,33.6 93.3,39.6 C93.6,45.6 93.1,53.3 93.3,59.1 C93.4,64.9 93.6,70.4 94.3,74.5 C95.0,78.6 95.8,81.5 97.4,83.7 C98.9,85.9 99.1,87.1 103.5,87.8 C108.0,88.5 120.6,103.7 124.0,87.8 C127.5,71.9 129.5,8.3 124.0,-7.7 C118.6,-23.6 96.7,-12.8 91.2,-7.7 C85.7,-2.5 90.9,15.3 91.2,23.1Z" fill="#f4b27c"/>
<path d="M97.4,23.1 C98.0,30.8 100.4,33.4 101.0,38.5 C101.5,43.7 100.4,48.8 100.4,53.9 C100.5,59.1 100.6,64.9 101.5,69.3 C102.3,73.8 103.5,78.6 105.6,80.6 C107.6,82.7 107.3,81.5 113.8,81.7 C120.3,81.8 139.4,96.6 144.6,81.7 C149.7,66.8 152.4,7.2 144.6,-7.7 C136.7,-22.5 105.2,-12.8 97.4,-7.7 C89.5,-2.5 96.8,15.4 97.4,23.1Z" fill="#e29c7e"/>
<path d="M105.6,45.7 C106.6,41.6 108.5,39.4 110.7,37.5 C112.9,35.6 116.4,34.4 118.9,34.4 C121.5,34.4 124.7,35.6 126.1,37.5 C127.5,39.4 127.6,42.3 127.1,45.7 C126.6,49.2 124.2,54.3 123.0,58.0 C121.8,61.8 121.5,65.6 119.9,68.3 C118.4,71.1 115.8,73.8 113.8,74.5 C111.7,75.2 109.2,74.5 107.6,72.4 C106.1,70.4 104.9,66.6 104.5,62.2 C104.2,57.7 104.5,49.8 105.6,45.7Z" fill="#dc9082"/>
<path d="M129.2,25.2 C130.0,23.1 133.5,22.8 135.3,23.1 C137.2,23.5 139.6,24.3 140.5,27.2 C141.3,30.2 141.5,38.2 140.5,40.6 C139.4,43.0 136.0,42.5 134.3,41.6 C132.6,40.8 131.1,38.2 130.2,35.5 C129.4,32.7 128.3,27.2 129.2,25.2Z" fill="#dc9082"/>
<path d="M129.2,13.9 C129.9,11.8 132.8,10.5 134.3,10.8 C135.9,11.2 138.1,13.9 138.4,16.0 C138.8,18.0 137.7,21.9 136.4,23.1 C135.0,24.3 131.4,24.7 130.2,23.1 C129.0,21.6 128.5,16.0 129.2,13.9Z" fill="#f4b27c"/>
<ellipse cx="115.6" cy="56.6" rx="2.57" ry="2.57" fill="#f9d38a"/>
<ellipse cx="113.3" cy="27.8" rx="2.57" ry="2.57" fill="#f4b27c"/>
<ellipse cx="133.3" cy="23.1" rx="1.44" ry="1.44" fill="#f4bccc"/>
<ellipse cx="125.1" cy="40.6" rx="1.33" ry="1.33" fill="#fdf0fa"/>
</g>
<path d="M19.5,49.1 L20.5,51.6 L22.5,52.6 L24.5,53.1 L25.0,55.6 L27.0,59.0 L29.0,60.6 L32.0,61.0 L36.0,61.0 L39.0,60.0 L41.4,59.0 L44.0,57.1 L45.0,55.6 L47.0,56.1 L50.0,56.6 L54.0,56.6 L58.0,57.1 L61.0,57.6 L63.0,58.1 L66.0,58.6 L69.0,59.0 L71.0,59.6 L74.0,59.0 L78.0,58.1 L80.0,57.1 L82.0,55.6 L84.6,53.2 L87.5,50.4 L93.3,45.6 L98.3,40.6 L102.5,37.2 L106.6,34.3 L110.8,30.2 L114.1,27.2 L117.4,23.9 L120.4,19.5 L122.8,17.9 L125.2,16.3 L127.6,14.7 L129.9,13.1 L131.5,11.6 L132.3,9.6 L132.7,7.2 L133.9,6.0 L135.1,6.8 L135.1,9.6 L134.7,12.0 L135.1,15.1 L135.1,17.1 L137.5,17.9 L139.1,19.1 L139.9,21.5 L139.9,26.9 L139.5,30.2 L139.1,33.6 L137.9,36.1 L136.2,38.6 L134.5,40.6 L132.9,41.5 L131.6,40.2 L130.8,38.6 L130.0,36.1 L128.7,35.6 L127.0,36.5 L126.2,38.1 L125.8,41.0 L125.8,44.4 L125.1,48.1 L125.4,50.6 L125.0,53.1 L124.1,54.7 L125.8,56.0 L128.3,56.0 L129.9,56.8 L130.3,58.9 L129.5,60.6 L126.6,60.6 L123.3,61.0 L120.8,61.8 L118.7,63.0 L117.9,65.5 L118.3,68.0 L118.7,70.6 L118.0,74.6 L116.4,77.6 L114.0,81.6 L111.5,85.6 L110.5,87.6 L110.5,98.1 L95.0,96.6 L44.3,90.1 L20.6,56.8 L20.3,52.6Z" fill="none" stroke="#6b6b6b" stroke-width="0.35"/>
<path d="M110.5,87.6 L110.5,98.1 L95.0,96.6 L44.3,90.1" fill="none" stroke="#555" stroke-width="0.6" stroke-dasharray="1 0.8"/>
<path d="M80.0,57.6 L83.0,55.1 L86.0,52.6 L89.0,50.1 L92.0,47.4 L95.0,44.6 L97.5,42.2 L99.5,40.4" fill="none" stroke="#939393" stroke-width="3.0" stroke-linecap="round"/>
<circle cx="86.0" cy="52.3" r="0.72" fill="#333"/>
<circle cx="82.2" cy="56.9" r="0.37" fill="#444"/>
<circle cx="88.1" cy="49.0" r="0.38" fill="#6a6a6a"/>
<circle cx="92.9" cy="47.8" r="0.78" fill="#fff"/>
<circle cx="91.9" cy="48.4" r="0.60" fill="#333"/>
<circle cx="82.6" cy="55.4" r="0.49" fill="#fff"/>
<circle cx="96.0" cy="43.1" r="0.43" fill="#d0d0d0"/>
<circle cx="82.6" cy="56.0" r="0.44" fill="#fff"/>
<circle cx="94.1" cy="44.8" r="0.77" fill="#fff"/>
<circle cx="87.0" cy="50.5" r="0.46" fill="#8fa070"/>
<circle cx="92.1" cy="48.2" r="0.55" fill="#d0d0d0"/>
<circle cx="91.8" cy="46.7" r="0.69" fill="#444"/>
<circle cx="83.2" cy="53.8" r="0.38" fill="#d0d0d0"/>
<circle cx="92.4" cy="48.4" r="0.66" fill="#555"/>
<circle cx="92.7" cy="46.8" r="0.39" fill="#8fa070"/>
<circle cx="86.1" cy="51.8" r="0.67" fill="#d0d0d0"/>
<circle cx="94.8" cy="46.7" r="0.67" fill="#555"/>
<circle cx="97.6" cy="42.9" r="0.43" fill="#555"/>
<circle cx="81.4" cy="56.2" r="0.68" fill="#444"/>
<circle cx="89.4" cy="50.6" r="0.55" fill="#444"/>
<circle cx="92.5" cy="48.6" r="0.60" fill="#8fa070"/>
<circle cx="96.0" cy="45.2" r="0.78" fill="#6a6a6a"/>
<circle cx="82.4" cy="54.3" r="0.36" fill="#444"/>
<circle cx="96.3" cy="42.1" r="0.54" fill="#444"/>
<circle cx="87.9" cy="52.2" r="0.74" fill="#d0d0d0"/>
<circle cx="99.2" cy="41.6" r="0.75" fill="#6a6a6a"/>
<circle cx="97.0" cy="44.2" r="0.53" fill="#6a6a6a"/>
<circle cx="88.2" cy="50.5" r="0.38" fill="#444"/>
<circle cx="83.6" cy="53.6" r="0.40" fill="#333"/>
<circle cx="92.0" cy="48.6" r="0.36" fill="#fff"/>
<circle cx="98.0" cy="41.1" r="0.78" fill="#555"/>
<circle cx="92.6" cy="45.9" r="0.80" fill="#6a6a6a"/>
<circle cx="89.7" cy="48.4" r="0.69" fill="#333"/>
<circle cx="95.4" cy="44.6" r="0.36" fill="#fff"/>
<circle cx="98.9" cy="40.2" r="0.76" fill="#fff"/>
<circle cx="95.3" cy="44.2" r="0.66" fill="#333"/>
<circle cx="85.2" cy="52.2" r="0.45" fill="#8fa070"/>
<circle cx="91.4" cy="48.3" r="0.72" fill="#fff"/>
<circle cx="100.1" cy="41.3" r="0.53" fill="#8fa070"/>
<circle cx="95.8" cy="43.1" r="0.36" fill="#d0d0d0"/>
<path d="M71.5,56.1 C71.4,55.5 72.6,54.4 73.5,54.0 C74.4,53.6 76.0,53.4 77.0,53.6 C78.0,53.8 79.0,54.4 79.2,55.0 C79.4,55.6 78.9,56.6 78.0,57.0 C77.1,57.4 75.1,57.5 74.0,57.4 C72.9,57.2 71.6,56.7 71.5,56.1Z" fill="#f8e393" stroke="#777" stroke-width="0.3"/>
<circle cx="45.2" cy="51.8" r="1.3" fill="#9dc567" stroke="#777" stroke-width="0.2"/>
<path d="M98.3,40.6 L102.5,37.2 L106.6,34.3 L110.8,30.2 L114.1,27.2 L117.4,23.9 L120.4,19.5 L122.8,17.9 L125.2,16.3 L127.6,14.7 L129.9,13.1 L131.5,11.6 L132.3,9.6" fill="none" stroke="#333" stroke-width="0.5"/>
<circle cx="101.5" cy="38.6" r="0.8" fill="#222"/>
<circle cx="105.2" cy="34.2" r="1.1" fill="#222"/>
<circle cx="107.5" cy="32.1" r="0.7" fill="#222"/>
<circle cx="109.8" cy="29.2" r="1.1" fill="#222"/>
<circle cx="112.8" cy="26.2" r="1.2" fill="#222"/>
<circle cx="116.5" cy="23.2" r="0.8" fill="#222"/>
<circle cx="120.5" cy="19.8" r="0.9" fill="#222"/>
<circle cx="124.5" cy="16.8" r="0.7" fill="#222"/>
<circle cx="128.0" cy="14.4" r="0.5" fill="#222"/>
</g>
<rect x="378.4" y="16.2" width="157.1" height="104.9" fill="none" stroke="#3c3c3c" stroke-width="1.15"/>
<text x="386.3" y="12.5" text-anchor="middle" style="font-family:'Liberation Serif','Times New Roman',serif;font-weight:bold;stroke:#222;stroke-width:0.25px;text-rendering:geometricPrecision;font-size:6.7px" fill="#222">51°E</text>
<text x="381.9" y="129.6" text-anchor="middle" style="font-family:'Liberation Serif','Times New Roman',serif;font-weight:bold;stroke:#222;stroke-width:0.25px;text-rendering:geometricPrecision;font-size:6.7px" fill="#222">51°E</text>
<text x="410.7" y="12.5" text-anchor="middle" style="font-family:'Liberation Serif','Times New Roman',serif;font-weight:bold;stroke:#222;stroke-width:0.25px;text-rendering:geometricPrecision;font-size:6.7px" fill="#222">52°E</text>
<text x="406.9" y="129.6" text-anchor="middle" style="font-family:'Liberation Serif','Times New Roman',serif;font-weight:bold;stroke:#222;stroke-width:0.25px;text-rendering:geometricPrecision;font-size:6.7px" fill="#222">52°E</text>
<text x="435.0" y="12.5" text-anchor="middle" style="font-family:'Liberation Serif','Times New Roman',serif;font-weight:bold;stroke:#222;stroke-width:0.25px;text-rendering:geometricPrecision;font-size:6.7px" fill="#222">53°E</text>
<text x="432.0" y="129.6" text-anchor="middle" style="font-family:'Liberation Serif','Times New Roman',serif;font-weight:bold;stroke:#222;stroke-width:0.25px;text-rendering:geometricPrecision;font-size:6.7px" fill="#222">53°E</text>
<text x="459.3" y="12.5" text-anchor="middle" style="font-family:'Liberation Serif','Times New Roman',serif;font-weight:bold;stroke:#222;stroke-width:0.25px;text-rendering:geometricPrecision;font-size:6.7px" fill="#222">54°E</text>
<text x="456.9" y="129.6" text-anchor="middle" style="font-family:'Liberation Serif','Times New Roman',serif;font-weight:bold;stroke:#222;stroke-width:0.25px;text-rendering:geometricPrecision;font-size:6.7px" fill="#222">54°E</text>
<text x="483.6" y="12.5" text-anchor="middle" style="font-family:'Liberation Serif','Times New Roman',serif;font-weight:bold;stroke:#222;stroke-width:0.25px;text-rendering:geometricPrecision;font-size:6.7px" fill="#222">55°E</text>
<text x="482.3" y="129.6" text-anchor="middle" style="font-family:'Liberation Serif','Times New Roman',serif;font-weight:bold;stroke:#222;stroke-width:0.25px;text-rendering:geometricPrecision;font-size:6.7px" fill="#222">55°E</text>
<text x="507.8" y="12.5" text-anchor="middle" style="font-family:'Liberation Serif','Times New Roman',serif;font-weight:bold;stroke:#222;stroke-width:0.25px;text-rendering:geometricPrecision;font-size:6.7px" fill="#222">56°E</text>
<text x="507.5" y="129.6" text-anchor="middle" style="font-family:'Liberation Serif','Times New Roman',serif;font-weight:bold;stroke:#222;stroke-width:0.25px;text-rendering:geometricPrecision;font-size:6.7px" fill="#222">56°E</text>
<text x="532.2" y="12.5" text-anchor="middle" style="font-family:'Liberation Serif','Times New Roman',serif;font-weight:bold;stroke:#222;stroke-width:0.25px;text-rendering:geometricPrecision;font-size:6.7px" fill="#222">57°E</text>
<text x="532.4" y="129.6" text-anchor="middle" style="font-family:'Liberation Serif','Times New Roman',serif;font-weight:bold;stroke:#222;stroke-width:0.25px;text-rendering:geometricPrecision;font-size:6.7px" fill="#222">57°E</text>
<text transform="translate(372.6,20.0) rotate(-90)" x="0" y="2.2" text-anchor="middle" style="font-family:'Liberation Serif','Times New Roman',serif;font-weight:bold;stroke:#222;stroke-width:0.25px;text-rendering:geometricPrecision;font-size:6.7px" fill="#222">26°N</text>
<text transform="translate(541.3,24.0) rotate(-90)" x="0" y="2.2" text-anchor="middle" style="font-family:'Liberation Serif','Times New Roman',serif;font-weight:bold;stroke:#222;stroke-width:0.25px;text-rendering:geometricPrecision;font-size:6.7px" fill="#222">26°N</text>
<text transform="translate(372.6,47.6) rotate(-90)" x="0" y="2.2" text-anchor="middle" style="font-family:'Liberation Serif','Times New Roman',serif;font-weight:bold;stroke:#222;stroke-width:0.25px;text-rendering:geometricPrecision;font-size:6.7px" fill="#222">25°N</text>
<text transform="translate(541.3,50.9) rotate(-90)" x="0" y="2.2" text-anchor="middle" style="font-family:'Liberation Serif','Times New Roman',serif;font-weight:bold;stroke:#222;stroke-width:0.25px;text-rendering:geometricPrecision;font-size:6.7px" fill="#222">25°N</text>
<text transform="translate(372.6,74.9) rotate(-90)" x="0" y="2.2" text-anchor="middle" style="font-family:'Liberation Serif','Times New Roman',serif;font-weight:bold;stroke:#222;stroke-width:0.25px;text-rendering:geometricPrecision;font-size:6.7px" fill="#222">24°N</text>
<text transform="translate(541.3,77.9) rotate(-90)" x="0" y="2.2" text-anchor="middle" style="font-family:'Liberation Serif','Times New Roman',serif;font-weight:bold;stroke:#222;stroke-width:0.25px;text-rendering:geometricPrecision;font-size:6.7px" fill="#222">24°N</text>
<text transform="translate(372.6,102.4) rotate(-90)" x="0" y="2.2" text-anchor="middle" style="font-family:'Liberation Serif','Times New Roman',serif;font-weight:bold;stroke:#222;stroke-width:0.25px;text-rendering:geometricPrecision;font-size:6.7px" fill="#222">23°N</text>
<text transform="translate(541.3,104.5) rotate(-90)" x="0" y="2.2" text-anchor="middle" style="font-family:'Liberation Serif','Times New Roman',serif;font-weight:bold;stroke:#222;stroke-width:0.25px;text-rendering:geometricPrecision;font-size:6.7px" fill="#222">23°N</text>
<text x="443.85" y="27.3" text-anchor="middle" style="font-family:'Liberation Serif','Times New Roman',serif;font-weight:bold;stroke:#222;stroke-width:0.25px;text-rendering:geometricPrecision;font-size:8.8px" fill="#111">CMORPH</text>
<text x="382.1" y="117.2" style="font-family:'Liberation Serif','Times New Roman',serif;font-weight:bold;stroke:#222;stroke-width:0.25px;text-rendering:geometricPrecision;font-size:10.5px" fill="#111">(c)</text>
<clipPath id="cpd"><path d="M19.5,49.1 L20.5,51.6 L22.5,52.6 L24.5,53.1 L25.0,55.6 L27.0,59.0 L29.0,60.6 L32.0,61.0 L36.0,61.0 L39.0,60.0 L41.4,59.0 L44.0,57.1 L45.0,55.6 L47.0,56.1 L50.0,56.6 L54.0,56.6 L58.0,57.1 L61.0,57.6 L63.0,58.1 L66.0,58.6 L69.0,59.0 L71.0,59.6 L74.0,59.0 L78.0,58.1 L80.0,57.1 L82.0,55.6 L84.6,53.2 L87.5,50.4 L93.3,45.6 L98.3,40.6 L102.5,37.2 L106.6,34.3 L110.8,30.2 L114.1,27.2 L117.4,23.9 L120.4,19.5 L122.8,17.9 L125.2,16.3 L127.6,14.7 L129.9,13.1 L131.5,11.6 L132.3,9.6 L132.7,7.2 L133.9,6.0 L135.1,6.8 L135.1,9.6 L134.7,12.0 L135.1,15.1 L135.1,17.1 L137.5,17.9 L139.1,19.1 L139.9,21.5 L139.9,26.9 L139.5,30.2 L139.1,33.6 L137.9,36.1 L136.2,38.6 L134.5,40.6 L132.9,41.5 L131.6,40.2 L130.8,38.6 L130.0,36.1 L128.7,35.6 L127.0,36.5 L126.2,38.1 L125.8,41.0 L125.8,44.4 L125.1,48.1 L125.4,50.6 L125.0,53.1 L124.1,54.7 L125.8,56.0 L128.3,56.0 L129.9,56.8 L130.3,58.9 L129.5,60.6 L126.6,60.6 L123.3,61.0 L120.8,61.8 L118.7,63.0 L117.9,65.5 L118.3,68.0 L118.7,70.6 L118.0,74.6 L116.4,77.6 L114.0,81.6 L111.5,85.6 L110.5,87.6 L110.5,98.1 L95.0,96.6 L44.3,90.1 L20.6,56.8 L20.3,52.6Z"/></clipPath>
<g transform="translate(15.57,160.3) scale(1.0040,1.0050)">
<circle cx="53.4" cy="29.2" r="0.75" fill="#6a6a6a"/>
<circle cx="86.2" cy="28.1" r="0.7" fill="#6a6a6a"/>
<circle cx="52.3" cy="34.9" r="0.6" fill="#909090"/>
<circle cx="57.9" cy="37.2" r="0.65" fill="#808080"/>
<circle cx="64.1" cy="45.1" r="0.85" fill="#606060"/>
<circle cx="64.1" cy="46.8" r="0.45" fill="#888"/>
<circle cx="45.0" cy="38.9" r="0.6" fill="#888"/>
<circle cx="38.2" cy="46.8" r="0.6" fill="#808080"/>
<circle cx="38.2" cy="48.0" r="0.45" fill="#909090"/>
<circle cx="30.8" cy="53.8" r="0.55" fill="#888"/>
<circle cx="30.8" cy="54.8" r="0.45" fill="#999"/>
<circle cx="41.0" cy="34.3" r="0.5" fill="#c0c0c0"/>
<circle cx="24.0" cy="43.9" r="0.5" fill="#c0c0c0"/>
<circle cx="26.9" cy="41.6" r="0.45" fill="#c8c8c8"/>
<circle cx="68.0" cy="38.3" r="0.5" fill="#c8c8c8"/>
<circle cx="73.7" cy="38.3" r="0.5" fill="#c8c8c8"/>
<circle cx="57.9" cy="51.8" r="0.5" fill="#999"/>
<circle cx="51.7" cy="50.1" r="0.5" fill="#bbb"/>
<circle cx="60.0" cy="53.0" r="0.6" fill="#9a9a9a"/>
<circle cx="62.0" cy="53.0" r="0.6" fill="#9a9a9a"/>
<circle cx="63.8" cy="53.2" r="0.5" fill="#9a9a9a"/>
<circle cx="69.5" cy="56.1" r="0.5" fill="#aaa"/>
<circle cx="48.5" cy="54.8" r="0.45" fill="#aaa"/>
<circle cx="55.0" cy="55.6" r="0.45" fill="#aaa"/>
<path d="M18.4,47.3 L21.8,50.7" stroke="#555" stroke-width="0.6"/>
<g clip-path="url(#cpd)">
<path d="M19.5,49.1 L20.5,51.6 L22.5,52.6 L24.5,53.1 L25.0,55.6 L27.0,59.0 L29.0,60.6 L32.0,61.0 L36.0,61.0 L39.0,60.0 L41.4,59.0 L44.0,57.1 L45.0,55.6 L47.0,56.1 L50.0,56.6 L54.0,56.6 L58.0,57.1 L61.0,57.6 L63.0,58.1 L66.0,58.6 L69.0,59.0 L71.0,59.6 L74.0,59.0 L78.0,58.1 L80.0,57.1 L82.0,55.6 L84.6,53.2 L87.5,50.4 L93.3,45.6 L98.3,40.6 L102.5,37.2 L106.6,34.3 L110.8,30.2 L114.1,27.2 L117.4,23.9 L120.4,19.5 L122.8,17.9 L125.2,16.3 L127.6,14.7 L129.9,13.1 L131.5,11.6 L132.3,9.6 L132.7,7.2 L133.9,6.0 L135.1,6.8 L135.1,9.6 L134.7,12.0 L135.1,15.1 L135.1,17.1 L137.5,17.9 L139.1,19.1 L139.9,21.5 L139.9,26.9 L139.5,30.2 L139.1,33.6 L137.9,36.1 L136.2,38.6 L134.5,40.6 L132.9,41.5 L131.6,40.2 L130.8,38.6 L130.0,36.1 L128.7,35.6 L127.0,36.5 L126.2,38.1 L125.8,41.0 L125.8,44.4 L125.1,48.1 L125.4,50.6 L125.0,53.1 L124.1,54.7 L125.8,56.0 L128.3,56.0 L129.9,56.8 L130.3,58.9 L129.5,60.6 L126.6,60.6 L123.3,61.0 L120.8,61.8 L118.7,63.0 L117.9,65.5 L118.3,68.0 L118.7,70.6 L118.0,74.6 L116.4,77.6 L114.0,81.6 L111.5,85.6 L110.5,87.6 L110.5,98.1 L95.0,96.6 L44.3,90.1 L20.6,56.8 L20.3,52.6Z" fill="#e3e89a"/>
<path d="M17.4,46.5 C18.2,43.6 23.5,46.8 25.3,48.5 C27.2,50.1 28.3,53.6 28.3,56.4 C28.3,59.2 26.7,63.9 25.3,65.4 C24.0,66.9 21.7,68.5 20.3,65.4 C19.0,62.2 16.5,49.3 17.4,46.5Z" fill="#f8e393"/>
<ellipse cx="53.8" cy="57.6" rx="6.18" ry="6.17" fill="#9dc567"/>
<ellipse cx="51.8" cy="89.1" rx="5.28" ry="5.27" fill="#9dc567"/>
<path d="M66.2,44.5 C66.2,56.1 66.0,55.4 66.5,59.4 C66.9,63.4 67.9,65.4 68.7,68.4 C69.4,71.3 69.4,74.6 70.8,77.2 C72.3,79.8 74.9,81.7 77.5,83.9 C80.1,86.1 85.4,88.3 86.5,90.5 C87.6,92.8 84.5,94.1 84.1,97.2 C83.7,100.3 74.1,107.2 84.1,109.2 C94.1,111.1 133.9,129.1 143.9,109.2 C153.8,89.3 156.8,9.7 143.9,-10.2 C130.9,-30.1 79.1,-19.4 66.2,-10.2 C53.2,-1.1 66.1,32.9 66.2,44.5Z" fill="#f8e393"/>
<path d="M100.0,91.2 C101.0,88.3 104.0,86.6 106.0,86.3 C108.0,85.9 111.0,86.3 112.0,89.3 C113.0,92.2 114.0,101.7 112.0,104.2 C110.0,106.7 102.0,106.3 100.0,104.2 C98.0,102.0 99.0,94.2 100.0,91.2Z" fill="#e3e89a"/>
<path d="M88.1,29.6 C88.2,40.1 88.4,46.7 88.7,52.8 C89.0,58.9 89.2,62.0 89.8,66.1 C90.3,70.1 90.8,73.9 92.1,77.2 C93.4,80.5 96.1,83.5 97.5,86.1 C99.0,88.7 99.7,91.2 100.8,92.7 C101.9,94.3 102.5,96.1 104.0,95.2 C105.5,94.3 103.3,88.6 110.0,87.3 C116.6,85.9 138.2,103.5 143.9,87.3 C149.5,71.0 153.2,6.0 143.9,-10.2 C134.6,-26.5 97.4,-16.9 88.1,-10.2 C78.8,-3.6 88.0,19.0 88.1,29.6Z" fill="#f9d38a"/>
<path d="M96.0,29.6 C96.2,38.6 97.0,38.6 97.0,44.0 C97.1,49.3 96.0,56.5 96.4,61.7 C96.9,66.9 98.3,71.3 99.7,75.0 C101.2,78.7 103.8,82.0 105.3,83.9 C106.8,85.7 102.2,85.8 108.6,86.1 C115.0,86.3 138.0,101.3 143.9,85.3 C149.7,69.2 151.8,5.7 143.9,-10.2 C135.9,-26.2 104.0,-16.9 96.0,-10.2 C88.1,-3.6 95.9,20.5 96.0,29.6Z" fill="#f4b27c"/>
<path d="M101.0,29.6 C101.3,37.8 102.4,35.6 102.5,39.5 C102.7,43.4 101.7,48.4 102.0,52.8 C102.4,57.3 103.5,62.0 104.5,66.1 C105.5,70.1 106.4,75.0 108.0,77.2 C109.6,79.4 108.0,79.0 114.0,79.3 C120.0,79.7 138.9,94.2 143.9,79.3 C148.8,64.4 151.0,4.7 143.9,-10.2 C136.7,-25.2 108.2,-16.9 101.0,-10.2 C93.9,-3.6 100.8,21.3 101.0,29.6Z" fill="#e29c7e"/>
<path d="M104.5,43.5 C105.2,41.5 106.8,39.7 108.0,39.5 C109.2,39.3 111.1,40.3 112.0,42.5 C112.9,44.6 113.5,49.0 113.5,52.4 C113.5,55.9 112.9,60.9 112.0,63.4 C111.1,65.9 109.2,67.7 108.0,67.4 C106.8,67.0 105.7,64.0 105.0,61.4 C104.3,58.7 104.1,54.4 104.0,51.4 C103.9,48.5 103.8,45.5 104.5,43.5Z" fill="#dc9082"/>
<path d="M121.9,29.6 C122.8,27.1 125.9,24.6 127.9,23.6 C129.9,22.6 132.7,22.1 133.9,23.6 C135.1,25.1 135.6,30.0 134.9,32.5 C134.2,35.0 131.9,37.5 129.9,38.5 C127.9,39.5 124.3,40.0 122.9,38.5 C121.6,37.0 121.1,32.0 121.9,29.6Z" fill="#dc9082"/>
<ellipse cx="115.0" cy="57.4" rx="2.39" ry="2.39" fill="#f9d38a"/>
<ellipse cx="131.4" cy="19.1" rx="1.79" ry="1.79" fill="#f9d38a"/>
<path d="M132.4,3.7 C133.0,2.7 135.4,2.7 135.9,3.7 C136.4,4.7 136.0,8.7 135.4,9.7 C134.8,10.6 132.9,10.6 132.4,9.7 C131.9,8.7 131.8,4.7 132.4,3.7Z" fill="#f4bccc"/>
</g>
<path d="M19.5,49.1 L20.5,51.6 L22.5,52.6 L24.5,53.1 L25.0,55.6 L27.0,59.0 L29.0,60.6 L32.0,61.0 L36.0,61.0 L39.0,60.0 L41.4,59.0 L44.0,57.1 L45.0,55.6 L47.0,56.1 L50.0,56.6 L54.0,56.6 L58.0,57.1 L61.0,57.6 L63.0,58.1 L66.0,58.6 L69.0,59.0 L71.0,59.6 L74.0,59.0 L78.0,58.1 L80.0,57.1 L82.0,55.6 L84.6,53.2 L87.5,50.4 L93.3,45.6 L98.3,40.6 L102.5,37.2 L106.6,34.3 L110.8,30.2 L114.1,27.2 L117.4,23.9 L120.4,19.5 L122.8,17.9 L125.2,16.3 L127.6,14.7 L129.9,13.1 L131.5,11.6 L132.3,9.6 L132.7,7.2 L133.9,6.0 L135.1,6.8 L135.1,9.6 L134.7,12.0 L135.1,15.1 L135.1,17.1 L137.5,17.9 L139.1,19.1 L139.9,21.5 L139.9,26.9 L139.5,30.2 L139.1,33.6 L137.9,36.1 L136.2,38.6 L134.5,40.6 L132.9,41.5 L131.6,40.2 L130.8,38.6 L130.0,36.1 L128.7,35.6 L127.0,36.5 L126.2,38.1 L125.8,41.0 L125.8,44.4 L125.1,48.1 L125.4,50.6 L125.0,53.1 L124.1,54.7 L125.8,56.0 L128.3,56.0 L129.9,56.8 L130.3,58.9 L129.5,60.6 L126.6,60.6 L123.3,61.0 L120.8,61.8 L118.7,63.0 L117.9,65.5 L118.3,68.0 L118.7,70.6 L118.0,74.6 L116.4,77.6 L114.0,81.6 L111.5,85.6 L110.5,87.6 L110.5,98.1 L95.0,96.6 L44.3,90.1 L20.6,56.8 L20.3,52.6Z" fill="none" stroke="#6b6b6b" stroke-width="0.35"/>
<path d="M110.5,87.6 L110.5,98.1 L95.0,96.6 L44.3,90.1" fill="none" stroke="#555" stroke-width="0.6" stroke-dasharray="1 0.8"/>
<path d="M80.0,57.6 L83.0,55.1 L86.0,52.6 L89.0,50.1 L92.0,47.4 L95.0,44.6 L97.5,42.2 L99.5,40.4" fill="none" stroke="#939393" stroke-width="3.0" stroke-linecap="round"/>
<circle cx="86.0" cy="52.3" r="0.72" fill="#333"/>
<circle cx="82.2" cy="56.9" r="0.37" fill="#444"/>
<circle cx="88.1" cy="49.0" r="0.38" fill="#6a6a6a"/>
<circle cx="92.9" cy="47.8" r="0.78" fill="#fff"/>
<circle cx="91.9" cy="48.4" r="0.60" fill="#333"/>
<circle cx="82.6" cy="55.4" r="0.49" fill="#fff"/>
<circle cx="96.0" cy="43.1" r="0.43" fill="#d0d0d0"/>
<circle cx="82.6" cy="56.0" r="0.44" fill="#fff"/>
<circle cx="94.1" cy="44.8" r="0.77" fill="#fff"/>
<circle cx="87.0" cy="50.5" r="0.46" fill="#8fa070"/>
<circle cx="92.1" cy="48.2" r="0.55" fill="#d0d0d0"/>
<circle cx="91.8" cy="46.7" r="0.69" fill="#444"/>
<circle cx="83.2" cy="53.8" r="0.38" fill="#d0d0d0"/>
<circle cx="92.4" cy="48.4" r="0.66" fill="#555"/>
<circle cx="92.7" cy="46.8" r="0.39" fill="#8fa070"/>
<circle cx="86.1" cy="51.8" r="0.67" fill="#d0d0d0"/>
<circle cx="94.8" cy="46.7" r="0.67" fill="#555"/>
<circle cx="97.6" cy="42.9" r="0.43" fill="#555"/>
<circle cx="81.4" cy="56.2" r="0.68" fill="#444"/>
<circle cx="89.4" cy="50.6" r="0.55" fill="#444"/>
<circle cx="92.5" cy="48.6" r="0.60" fill="#8fa070"/>
<circle cx="96.0" cy="45.2" r="0.78" fill="#6a6a6a"/>
<circle cx="82.4" cy="54.3" r="0.36" fill="#444"/>
<circle cx="96.3" cy="42.1" r="0.54" fill="#444"/>
<circle cx="87.9" cy="52.2" r="0.74" fill="#d0d0d0"/>
<circle cx="99.2" cy="41.6" r="0.75" fill="#6a6a6a"/>
<circle cx="97.0" cy="44.2" r="0.53" fill="#6a6a6a"/>
<circle cx="88.2" cy="50.5" r="0.38" fill="#444"/>
<circle cx="83.6" cy="53.6" r="0.40" fill="#333"/>
<circle cx="92.0" cy="48.6" r="0.36" fill="#fff"/>
<circle cx="98.0" cy="41.1" r="0.78" fill="#555"/>
<circle cx="92.6" cy="45.9" r="0.80" fill="#6a6a6a"/>
<circle cx="89.7" cy="48.4" r="0.69" fill="#333"/>
<circle cx="95.4" cy="44.6" r="0.36" fill="#fff"/>
<circle cx="98.9" cy="40.2" r="0.76" fill="#fff"/>
<circle cx="95.3" cy="44.2" r="0.66" fill="#333"/>
<circle cx="85.2" cy="52.2" r="0.45" fill="#8fa070"/>
<circle cx="91.4" cy="48.3" r="0.72" fill="#fff"/>
<circle cx="100.1" cy="41.3" r="0.53" fill="#8fa070"/>
<circle cx="95.8" cy="43.1" r="0.36" fill="#d0d0d0"/>
<path d="M71.5,56.1 C71.4,55.5 72.6,54.4 73.5,54.0 C74.4,53.6 76.0,53.4 77.0,53.6 C78.0,53.8 79.0,54.4 79.2,55.0 C79.4,55.6 78.9,56.6 78.0,57.0 C77.1,57.4 75.1,57.5 74.0,57.4 C72.9,57.2 71.6,56.7 71.5,56.1Z" fill="#f8e393" stroke="#777" stroke-width="0.3"/>
<circle cx="45.2" cy="51.8" r="1.3" fill="#9dc567" stroke="#777" stroke-width="0.2"/>
<path d="M98.3,40.6 L102.5,37.2 L106.6,34.3 L110.8,30.2 L114.1,27.2 L117.4,23.9 L120.4,19.5 L122.8,17.9 L125.2,16.3 L127.6,14.7 L129.9,13.1 L131.5,11.6 L132.3,9.6" fill="none" stroke="#333" stroke-width="0.5"/>
<circle cx="101.5" cy="38.6" r="0.8" fill="#222"/>
<circle cx="105.2" cy="34.2" r="1.1" fill="#222"/>
<circle cx="107.5" cy="32.1" r="0.7" fill="#222"/>
<circle cx="109.8" cy="29.2" r="1.1" fill="#222"/>
<circle cx="112.8" cy="26.2" r="1.2" fill="#222"/>
<circle cx="116.5" cy="23.2" r="0.8" fill="#222"/>
<circle cx="120.5" cy="19.8" r="0.9" fill="#222"/>
<circle cx="124.5" cy="16.8" r="0.7" fill="#222"/>
<circle cx="128.0" cy="14.4" r="0.5" fill="#222"/>
</g>
<rect x="15.5" y="158.9" width="159.2" height="107.7" fill="none" stroke="#3c3c3c" stroke-width="1.15"/>
<text x="23.5" y="155.2" text-anchor="middle" style="font-family:'Liberation Serif','Times New Roman',serif;font-weight:bold;stroke:#222;stroke-width:0.25px;text-rendering:geometricPrecision;font-size:6.7px" fill="#222">51°E</text>
<text x="19.0" y="275.1" text-anchor="middle" style="font-family:'Liberation Serif','Times New Roman',serif;font-weight:bold;stroke:#222;stroke-width:0.25px;text-rendering:geometricPrecision;font-size:6.7px" fill="#222">51°E</text>
<text x="48.2" y="155.2" text-anchor="middle" style="font-family:'Liberation Serif','Times New Roman',serif;font-weight:bold;stroke:#222;stroke-width:0.25px;text-rendering:geometricPrecision;font-size:6.7px" fill="#222">52°E</text>
<text x="44.4" y="275.1" text-anchor="middle" style="font-family:'Liberation Serif','Times New Roman',serif;font-weight:bold;stroke:#222;stroke-width:0.25px;text-rendering:geometricPrecision;font-size:6.7px" fill="#222">52°E</text>
<text x="72.9" y="155.2" text-anchor="middle" style="font-family:'Liberation Serif','Times New Roman',serif;font-weight:bold;stroke:#222;stroke-width:0.25px;text-rendering:geometricPrecision;font-size:6.7px" fill="#222">53°E</text>
<text x="69.8" y="275.1" text-anchor="middle" style="font-family:'Liberation Serif','Times New Roman',serif;font-weight:bold;stroke:#222;stroke-width:0.25px;text-rendering:geometricPrecision;font-size:6.7px" fill="#222">53°E</text>
<text x="97.5" y="155.2" text-anchor="middle" style="font-family:'Liberation Serif','Times New Roman',serif;font-weight:bold;stroke:#222;stroke-width:0.25px;text-rendering:geometricPrecision;font-size:6.7px" fill="#222">54°E</text>
<text x="95.0" y="275.1" text-anchor="middle" style="font-family:'Liberation Serif','Times New Roman',serif;font-weight:bold;stroke:#222;stroke-width:0.25px;text-rendering:geometricPrecision;font-size:6.7px" fill="#222">54°E</text>
<text x="122.1" y="155.2" text-anchor="middle" style="font-family:'Liberation Serif','Times New Roman',serif;font-weight:bold;stroke:#222;stroke-width:0.25px;text-rendering:geometricPrecision;font-size:6.7px" fill="#222">55°E</text>
<text x="120.8" y="275.1" text-anchor="middle" style="font-family:'Liberation Serif','Times New Roman',serif;font-weight:bold;stroke:#222;stroke-width:0.25px;text-rendering:geometricPrecision;font-size:6.7px" fill="#222">55°E</text>
<text x="146.7" y="155.2" text-anchor="middle" style="font-family:'Liberation Serif','Times New Roman',serif;font-weight:bold;stroke:#222;stroke-width:0.25px;text-rendering:geometricPrecision;font-size:6.7px" fill="#222">56°E</text>
<text x="146.4" y="275.1" text-anchor="middle" style="font-family:'Liberation Serif','Times New Roman',serif;font-weight:bold;stroke:#222;stroke-width:0.25px;text-rendering:geometricPrecision;font-size:6.7px" fill="#222">56°E</text>
<text x="171.4" y="155.2" text-anchor="middle" style="font-family:'Liberation Serif','Times New Roman',serif;font-weight:bold;stroke:#222;stroke-width:0.25px;text-rendering:geometricPrecision;font-size:6.7px" fill="#222">57°E</text>
<text x="171.6" y="275.1" text-anchor="middle" style="font-family:'Liberation Serif','Times New Roman',serif;font-weight:bold;stroke:#222;stroke-width:0.25px;text-rendering:geometricPrecision;font-size:6.7px" fill="#222">57°E</text>
<text transform="translate(9.8,162.8) rotate(-90)" x="0" y="2.2" text-anchor="middle" style="font-family:'Liberation Serif','Times New Roman',serif;font-weight:bold;stroke:#222;stroke-width:0.25px;text-rendering:geometricPrecision;font-size:6.7px" fill="#222">26°N</text>
<text transform="translate(180.5,166.9) rotate(-90)" x="0" y="2.2" text-anchor="middle" style="font-family:'Liberation Serif','Times New Roman',serif;font-weight:bold;stroke:#222;stroke-width:0.25px;text-rendering:geometricPrecision;font-size:6.7px" fill="#222">26°N</text>
<text transform="translate(9.8,191.1) rotate(-90)" x="0" y="2.2" text-anchor="middle" style="font-family:'Liberation Serif','Times New Roman',serif;font-weight:bold;stroke:#222;stroke-width:0.25px;text-rendering:geometricPrecision;font-size:6.7px" fill="#222">25°N</text>
<text transform="translate(180.5,194.5) rotate(-90)" x="0" y="2.2" text-anchor="middle" style="font-family:'Liberation Serif','Times New Roman',serif;font-weight:bold;stroke:#222;stroke-width:0.25px;text-rendering:geometricPrecision;font-size:6.7px" fill="#222">25°N</text>
<text transform="translate(9.8,219.2) rotate(-90)" x="0" y="2.2" text-anchor="middle" style="font-family:'Liberation Serif','Times New Roman',serif;font-weight:bold;stroke:#222;stroke-width:0.25px;text-rendering:geometricPrecision;font-size:6.7px" fill="#222">24°N</text>
<text transform="translate(180.5,222.3) rotate(-90)" x="0" y="2.2" text-anchor="middle" style="font-family:'Liberation Serif','Times New Roman',serif;font-weight:bold;stroke:#222;stroke-width:0.25px;text-rendering:geometricPrecision;font-size:6.7px" fill="#222">24°N</text>
<text transform="translate(9.8,247.4) rotate(-90)" x="0" y="2.2" text-anchor="middle" style="font-family:'Liberation Serif','Times New Roman',serif;font-weight:bold;stroke:#222;stroke-width:0.25px;text-rendering:geometricPrecision;font-size:6.7px" fill="#222">23°N</text>
<text transform="translate(180.5,249.5) rotate(-90)" x="0" y="2.2" text-anchor="middle" style="font-family:'Liberation Serif','Times New Roman',serif;font-weight:bold;stroke:#222;stroke-width:0.25px;text-rendering:geometricPrecision;font-size:6.7px" fill="#222">23°N</text>
<text x="84.35" y="171.2" text-anchor="middle" style="font-family:'Liberation Serif','Times New Roman',serif;font-weight:bold;stroke:#222;stroke-width:0.25px;text-rendering:geometricPrecision;font-size:8.8px" fill="#111">CHIRPS</text>
<text x="19.2" y="262.7" style="font-family:'Liberation Serif','Times New Roman',serif;font-weight:bold;stroke:#222;stroke-width:0.25px;text-rendering:geometricPrecision;font-size:10.5px" fill="#111">(d)</text>
<clipPath id="cpe"><path d="M19.5,49.1 L20.5,51.6 L22.5,52.6 L24.5,53.1 L25.0,55.6 L27.0,59.0 L29.0,60.6 L32.0,61.0 L36.0,61.0 L39.0,60.0 L41.4,59.0 L44.0,57.1 L45.0,55.6 L47.0,56.1 L50.0,56.6 L54.0,56.6 L58.0,57.1 L61.0,57.6 L63.0,58.1 L66.0,58.6 L69.0,59.0 L71.0,59.6 L74.0,59.0 L78.0,58.1 L80.0,57.1 L82.0,55.6 L84.6,53.2 L87.5,50.4 L93.3,45.6 L98.3,40.6 L102.5,37.2 L106.6,34.3 L110.8,30.2 L114.1,27.2 L117.4,23.9 L120.4,19.5 L122.8,17.9 L125.2,16.3 L127.6,14.7 L129.9,13.1 L131.5,11.6 L132.3,9.6 L132.7,7.2 L133.9,6.0 L135.1,6.8 L135.1,9.6 L134.7,12.0 L135.1,15.1 L135.1,17.1 L137.5,17.9 L139.1,19.1 L139.9,21.5 L139.9,26.9 L139.5,30.2 L139.1,33.6 L137.9,36.1 L136.2,38.6 L134.5,40.6 L132.9,41.5 L131.6,40.2 L130.8,38.6 L130.0,36.1 L128.7,35.6 L127.0,36.5 L126.2,38.1 L125.8,41.0 L125.8,44.4 L125.1,48.1 L125.4,50.6 L125.0,53.1 L124.1,54.7 L125.8,56.0 L128.3,56.0 L129.9,56.8 L130.3,58.9 L129.5,60.6 L126.6,60.6 L123.3,61.0 L120.8,61.8 L118.7,63.0 L117.9,65.5 L118.3,68.0 L118.7,70.6 L118.0,74.6 L116.4,77.6 L114.0,81.6 L111.5,85.6 L110.5,87.6 L110.5,98.1 L95.0,96.6 L44.3,90.1 L20.6,56.8 L20.3,52.6Z"/></clipPath>
<g transform="translate(196.8,161.54) scale(0.9978,0.9935)">
<circle cx="53.4" cy="29.2" r="0.75" fill="#6a6a6a"/>
<circle cx="86.2" cy="28.1" r="0.7" fill="#6a6a6a"/>
<circle cx="52.3" cy="34.9" r="0.6" fill="#909090"/>
<circle cx="57.9" cy="37.2" r="0.65" fill="#808080"/>
<circle cx="64.1" cy="45.1" r="0.85" fill="#606060"/>
<circle cx="64.1" cy="46.8" r="0.45" fill="#888"/>
<circle cx="45.0" cy="38.9" r="0.6" fill="#888"/>
<circle cx="38.2" cy="46.8" r="0.6" fill="#808080"/>
<circle cx="38.2" cy="48.0" r="0.45" fill="#909090"/>
<circle cx="30.8" cy="53.8" r="0.55" fill="#888"/>
<circle cx="30.8" cy="54.8" r="0.45" fill="#999"/>
<circle cx="41.0" cy="34.3" r="0.5" fill="#c0c0c0"/>
<circle cx="24.0" cy="43.9" r="0.5" fill="#c0c0c0"/>
<circle cx="26.9" cy="41.6" r="0.45" fill="#c8c8c8"/>
<circle cx="68.0" cy="38.3" r="0.5" fill="#c8c8c8"/>
<circle cx="73.7" cy="38.3" r="0.5" fill="#c8c8c8"/>
<circle cx="57.9" cy="51.8" r="0.5" fill="#999"/>
<circle cx="51.7" cy="50.1" r="0.5" fill="#bbb"/>
<circle cx="60.0" cy="53.0" r="0.6" fill="#9a9a9a"/>
<circle cx="62.0" cy="53.0" r="0.6" fill="#9a9a9a"/>
<circle cx="63.8" cy="53.2" r="0.5" fill="#9a9a9a"/>
<circle cx="69.5" cy="56.1" r="0.5" fill="#aaa"/>
<circle cx="48.5" cy="54.8" r="0.45" fill="#aaa"/>
<circle cx="55.0" cy="55.6" r="0.45" fill="#aaa"/>
<path d="M18.4,47.3 L21.8,50.7" stroke="#555" stroke-width="0.6"/>
<g clip-path="url(#cpe)">
<path d="M19.5,49.1 L20.5,51.6 L22.5,52.6 L24.5,53.1 L25.0,55.6 L27.0,59.0 L29.0,60.6 L32.0,61.0 L36.0,61.0 L39.0,60.0 L41.4,59.0 L44.0,57.1 L45.0,55.6 L47.0,56.1 L50.0,56.6 L54.0,56.6 L58.0,57.1 L61.0,57.6 L63.0,58.1 L66.0,58.6 L69.0,59.0 L71.0,59.6 L74.0,59.0 L78.0,58.1 L80.0,57.1 L82.0,55.6 L84.6,53.2 L87.5,50.4 L93.3,45.6 L98.3,40.6 L102.5,37.2 L106.6,34.3 L110.8,30.2 L114.1,27.2 L117.4,23.9 L120.4,19.5 L122.8,17.9 L125.2,16.3 L127.6,14.7 L129.9,13.1 L131.5,11.6 L132.3,9.6 L132.7,7.2 L133.9,6.0 L135.1,6.8 L135.1,9.6 L134.7,12.0 L135.1,15.1 L135.1,17.1 L137.5,17.9 L139.1,19.1 L139.9,21.5 L139.9,26.9 L139.5,30.2 L139.1,33.6 L137.9,36.1 L136.2,38.6 L134.5,40.6 L132.9,41.5 L131.6,40.2 L130.8,38.6 L130.0,36.1 L128.7,35.6 L127.0,36.5 L126.2,38.1 L125.8,41.0 L125.8,44.4 L125.1,48.1 L125.4,50.6 L125.0,53.1 L124.1,54.7 L125.8,56.0 L128.3,56.0 L129.9,56.8 L130.3,58.9 L129.5,60.6 L126.6,60.6 L123.3,61.0 L120.8,61.8 L118.7,63.0 L117.9,65.5 L118.3,68.0 L118.7,70.6 L118.0,74.6 L116.4,77.6 L114.0,81.6 L111.5,85.6 L110.5,87.6 L110.5,98.1 L95.0,96.6 L44.3,90.1 L20.6,56.8 L20.3,52.6Z" fill="#e3e89a"/>
<path d="M19.5,49.1 L20.5,51.6 L22.5,52.6 L24.5,53.1 L25.0,55.6 L27.0,59.0 L29.0,60.6 L32.0,61.0 L36.0,61.0 L39.0,60.0 L41.4,59.0 L44.0,57.1 L45.0,55.6 L47.0,56.1 L50.0,56.6 L54.0,56.6 L58.0,57.1 L61.0,57.6 L63.0,58.1 L66.0,58.6 L69.0,59.0 L71.0,59.6 L74.0,59.0 L78.0,58.1 L80.0,57.1 L82.0,55.6 L84.6,53.2 L87.5,50.4 L93.3,45.6 L98.3,40.6 L102.5,37.2 L106.6,34.3 L110.8,30.2 L114.1,27.2 L117.4,23.9 L120.4,19.5 L122.8,17.9 L125.2,16.3 L127.6,14.7 L129.9,13.1 L131.5,11.6 L132.3,9.6 L132.7,7.2 L133.9,6.0 L135.1,6.8 L135.1,9.6 L134.7,12.0 L135.1,15.1 L135.1,17.1 L137.5,17.9 L139.1,19.1 L139.9,21.5 L139.9,26.9 L139.5,30.2 L139.1,33.6 L137.9,36.1 L136.2,38.6 L134.5,40.6 L132.9,41.5 L131.6,40.2 L130.8,38.6 L130.0,36.1 L128.7,35.6 L127.0,36.5 L126.2,38.1 L125.8,41.0 L125.8,44.4 L125.1,48.1 L125.4,50.6 L125.0,53.1 L124.1,54.7 L125.8,56.0 L128.3,56.0 L129.9,56.8 L130.3,58.9 L129.5,60.6 L126.6,60.6 L123.3,61.0 L120.8,61.8 L118.7,63.0 L117.9,65.5 L118.3,68.0 L118.7,70.6 L118.0,74.6 L116.4,77.6 L114.0,81.6 L111.5,85.6 L110.5,87.6 L110.5,98.1 L95.0,96.6 L44.3,90.1 L20.6,56.8 L20.3,52.6Z" fill="#9dc567"/>
<path d="M26.3,48.8 C33.3,47.6 62.7,48.6 70.0,49.8 C77.2,51.0 70.1,53.4 70.0,55.8 C69.8,58.2 68.9,61.5 68.9,64.1 C68.9,66.6 68.6,69.4 70.0,71.1 C71.3,72.9 74.8,73.5 77.0,74.6 C79.1,75.8 81.4,76.6 82.8,78.2 C84.1,79.7 84.7,82.1 85.1,84.0 C85.5,86.0 85.7,88.3 85.1,89.8 C84.5,91.4 82.3,91.2 81.7,93.4 C81.1,95.6 89.4,101.5 81.4,103.1 C73.3,104.8 42.8,108.2 33.3,103.1 C23.8,98.1 24.8,79.2 24.3,72.9 C23.8,66.6 29.7,68.1 30.3,65.4 C30.9,62.7 28.4,59.6 27.8,56.8 C27.1,54.1 19.2,50.0 26.3,48.8Z" fill="#58a04e"/>
<path d="M100.4,28.6 C93.2,31.8 100.2,43.8 100.3,47.8 C100.5,51.7 101.6,50.5 101.4,52.4 C101.2,54.3 99.7,57.1 99.1,59.4 C98.5,61.8 97.7,63.8 97.9,66.5 C98.1,69.2 99.4,73.1 100.3,75.9 C101.3,78.6 102.4,80.9 103.7,82.8 C105.1,84.7 105.1,86.5 108.4,87.5 C111.7,88.6 117.6,98.9 123.5,89.0 C129.3,79.2 147.4,38.7 143.5,28.6 C139.7,18.6 107.6,25.5 100.4,28.6Z" fill="#e3e89a"/>
<path d="M104.9,28.6 C104.9,37.8 105.3,38.3 104.9,43.0 C104.5,47.8 103.4,53.6 102.6,57.1 C101.9,60.6 100.1,61.7 100.3,64.1 C100.5,66.4 102.4,68.8 103.7,71.1 C105.1,73.5 107.3,76.2 108.4,78.2 C109.6,80.1 108.2,81.8 110.7,82.8 C113.2,83.8 117.2,93.0 123.5,84.0 C129.8,75.0 144.4,44.6 148.5,28.6 C152.7,12.7 155.8,-4.9 148.5,-11.6 C141.3,-18.3 112.2,-18.3 104.9,-11.6 C97.7,-4.9 104.9,19.5 104.9,28.6Z" fill="#f8e393"/>
<path d="M103.4,93.4 C104.7,91.9 109.6,90.8 110.9,92.1 C112.3,93.4 112.7,99.6 111.4,101.1 C110.2,102.6 104.8,102.4 103.4,101.1 C102.1,99.8 102.2,94.9 103.4,93.4Z" fill="#58a04e"/>
<ellipse cx="115.5" cy="57.1" rx="1.40" ry="1.41" fill="#9dc567"/>
<ellipse cx="123.5" cy="56.5" rx="1.40" ry="1.41" fill="#9dc567"/>
<ellipse cx="132.5" cy="19.4" rx="1.20" ry="1.21" fill="#9dc567"/>
<ellipse cx="125.9" cy="40.7" rx="1.80" ry="1.81" fill="#f4b27c"/>
<path d="M125.5,22.6 C126.3,21.8 130.3,21.9 131.5,22.6 C132.7,23.3 133.3,25.8 132.5,26.6 C131.7,27.5 127.6,28.3 126.5,27.6 C125.3,27.0 124.6,23.4 125.5,22.6Z" fill="#f9d38a"/>
<ellipse cx="137.5" cy="20.2" rx="1.50" ry="1.51" fill="#f4b27c"/>
<path d="M132.0,4.5 C132.5,3.4 134.9,3.5 135.5,4.5 C136.1,5.5 136.0,9.4 135.5,10.5 C135.0,11.6 133.1,12.0 132.5,11.0 C131.9,10.0 131.5,5.6 132.0,4.5Z" fill="#f4b27c"/>
</g>
<path d="M19.5,49.1 L20.5,51.6 L22.5,52.6 L24.5,53.1 L25.0,55.6 L27.0,59.0 L29.0,60.6 L32.0,61.0 L36.0,61.0 L39.0,60.0 L41.4,59.0 L44.0,57.1 L45.0,55.6 L47.0,56.1 L50.0,56.6 L54.0,56.6 L58.0,57.1 L61.0,57.6 L63.0,58.1 L66.0,58.6 L69.0,59.0 L71.0,59.6 L74.0,59.0 L78.0,58.1 L80.0,57.1 L82.0,55.6 L84.6,53.2 L87.5,50.4 L93.3,45.6 L98.3,40.6 L102.5,37.2 L106.6,34.3 L110.8,30.2 L114.1,27.2 L117.4,23.9 L120.4,19.5 L122.8,17.9 L125.2,16.3 L127.6,14.7 L129.9,13.1 L131.5,11.6 L132.3,9.6 L132.7,7.2 L133.9,6.0 L135.1,6.8 L135.1,9.6 L134.7,12.0 L135.1,15.1 L135.1,17.1 L137.5,17.9 L139.1,19.1 L139.9,21.5 L139.9,26.9 L139.5,30.2 L139.1,33.6 L137.9,36.1 L136.2,38.6 L134.5,40.6 L132.9,41.5 L131.6,40.2 L130.8,38.6 L130.0,36.1 L128.7,35.6 L127.0,36.5 L126.2,38.1 L125.8,41.0 L125.8,44.4 L125.1,48.1 L125.4,50.6 L125.0,53.1 L124.1,54.7 L125.8,56.0 L128.3,56.0 L129.9,56.8 L130.3,58.9 L129.5,60.6 L126.6,60.6 L123.3,61.0 L120.8,61.8 L118.7,63.0 L117.9,65.5 L118.3,68.0 L118.7,70.6 L118.0,74.6 L116.4,77.6 L114.0,81.6 L111.5,85.6 L110.5,87.6 L110.5,98.1 L95.0,96.6 L44.3,90.1 L20.6,56.8 L20.3,52.6Z" fill="none" stroke="#6b6b6b" stroke-width="0.35"/>
<path d="M110.5,87.6 L110.5,98.1 L95.0,96.6 L44.3,90.1" fill="none" stroke="#555" stroke-width="0.6" stroke-dasharray="1 0.8"/>
<path d="M80.0,57.6 L83.0,55.1 L86.0,52.6 L89.0,50.1 L92.0,47.4 L95.0,44.6 L97.5,42.2 L99.5,40.4" fill="none" stroke="#939393" stroke-width="3.0" stroke-linecap="round"/>
<circle cx="86.0" cy="52.3" r="0.72" fill="#333"/>
<circle cx="82.2" cy="56.9" r="0.37" fill="#444"/>
<circle cx="88.1" cy="49.0" r="0.38" fill="#6a6a6a"/>
<circle cx="92.9" cy="47.8" r="0.78" fill="#fff"/>
<circle cx="91.9" cy="48.4" r="0.60" fill="#333"/>
<circle cx="82.6" cy="55.4" r="0.49" fill="#fff"/>
<circle cx="96.0" cy="43.1" r="0.43" fill="#d0d0d0"/>
<circle cx="82.6" cy="56.0" r="0.44" fill="#fff"/>
<circle cx="94.1" cy="44.8" r="0.77" fill="#fff"/>
<circle cx="87.0" cy="50.5" r="0.46" fill="#8fa070"/>
<circle cx="92.1" cy="48.2" r="0.55" fill="#d0d0d0"/>
<circle cx="91.8" cy="46.7" r="0.69" fill="#444"/>
<circle cx="83.2" cy="53.8" r="0.38" fill="#d0d0d0"/>
<circle cx="92.4" cy="48.4" r="0.66" fill="#555"/>
<circle cx="92.7" cy="46.8" r="0.39" fill="#8fa070"/>
<circle cx="86.1" cy="51.8" r="0.67" fill="#d0d0d0"/>
<circle cx="94.8" cy="46.7" r="0.67" fill="#555"/>
<circle cx="97.6" cy="42.9" r="0.43" fill="#555"/>
<circle cx="81.4" cy="56.2" r="0.68" fill="#444"/>
<circle cx="89.4" cy="50.6" r="0.55" fill="#444"/>
<circle cx="92.5" cy="48.6" r="0.60" fill="#8fa070"/>
<circle cx="96.0" cy="45.2" r="0.78" fill="#6a6a6a"/>
<circle cx="82.4" cy="54.3" r="0.36" fill="#444"/>
<circle cx="96.3" cy="42.1" r="0.54" fill="#444"/>
<circle cx="87.9" cy="52.2" r="0.74" fill="#d0d0d0"/>
<circle cx="99.2" cy="41.6" r="0.75" fill="#6a6a6a"/>
<circle cx="97.0" cy="44.2" r="0.53" fill="#6a6a6a"/>
<circle cx="88.2" cy="50.5" r="0.38" fill="#444"/>
<circle cx="83.6" cy="53.6" r="0.40" fill="#333"/>
<circle cx="92.0" cy="48.6" r="0.36" fill="#fff"/>
<circle cx="98.0" cy="41.1" r="0.78" fill="#555"/>
<circle cx="92.6" cy="45.9" r="0.80" fill="#6a6a6a"/>
<circle cx="89.7" cy="48.4" r="0.69" fill="#333"/>
<circle cx="95.4" cy="44.6" r="0.36" fill="#fff"/>
<circle cx="98.9" cy="40.2" r="0.76" fill="#fff"/>
<circle cx="95.3" cy="44.2" r="0.66" fill="#333"/>
<circle cx="85.2" cy="52.2" r="0.45" fill="#8fa070"/>
<circle cx="91.4" cy="48.3" r="0.72" fill="#fff"/>
<circle cx="100.1" cy="41.3" r="0.53" fill="#8fa070"/>
<circle cx="95.8" cy="43.1" r="0.36" fill="#d0d0d0"/>
<path d="M71.5,56.1 C71.4,55.5 72.6,54.4 73.5,54.0 C74.4,53.6 76.0,53.4 77.0,53.6 C78.0,53.8 79.0,54.4 79.2,55.0 C79.4,55.6 78.9,56.6 78.0,57.0 C77.1,57.4 75.1,57.5 74.0,57.4 C72.9,57.2 71.6,56.7 71.5,56.1Z" fill="#9dc567" stroke="#777" stroke-width="0.3"/>
<circle cx="45.2" cy="51.8" r="1.3" fill="#58a04e" stroke="#777" stroke-width="0.2"/>
<path d="M98.3,40.6 L102.5,37.2 L106.6,34.3 L110.8,30.2 L114.1,27.2 L117.4,23.9 L120.4,19.5 L122.8,17.9 L125.2,16.3 L127.6,14.7 L129.9,13.1 L131.5,11.6 L132.3,9.6" fill="none" stroke="#333" stroke-width="0.5"/>
<circle cx="101.5" cy="38.6" r="0.8" fill="#222"/>
<circle cx="105.2" cy="34.2" r="1.1" fill="#222"/>
<circle cx="107.5" cy="32.1" r="0.7" fill="#222"/>
<circle cx="109.8" cy="29.2" r="1.1" fill="#222"/>
<circle cx="112.8" cy="26.2" r="1.2" fill="#222"/>
<circle cx="116.5" cy="23.2" r="0.8" fill="#222"/>
<circle cx="120.5" cy="19.8" r="0.9" fill="#222"/>
<circle cx="124.5" cy="16.8" r="0.7" fill="#222"/>
<circle cx="128.0" cy="14.4" r="0.5" fill="#222"/>
</g>
<rect x="196.4" y="160.4" width="159.6" height="106.6" fill="none" stroke="#3c3c3c" stroke-width="1.15"/>
<text x="204.5" y="156.7" text-anchor="middle" style="font-family:'Liberation Serif','Times New Roman',serif;font-weight:bold;stroke:#222;stroke-width:0.25px;text-rendering:geometricPrecision;font-size:6.7px" fill="#222">51°E</text>
<text x="199.9" y="275.5" text-anchor="middle" style="font-family:'Liberation Serif','Times New Roman',serif;font-weight:bold;stroke:#222;stroke-width:0.25px;text-rendering:geometricPrecision;font-size:6.7px" fill="#222">51°E</text>
<text x="229.2" y="156.7" text-anchor="middle" style="font-family:'Liberation Serif','Times New Roman',serif;font-weight:bold;stroke:#222;stroke-width:0.25px;text-rendering:geometricPrecision;font-size:6.7px" fill="#222">52°E</text>
<text x="225.4" y="275.5" text-anchor="middle" style="font-family:'Liberation Serif','Times New Roman',serif;font-weight:bold;stroke:#222;stroke-width:0.25px;text-rendering:geometricPrecision;font-size:6.7px" fill="#222">52°E</text>
<text x="253.9" y="156.7" text-anchor="middle" style="font-family:'Liberation Serif','Times New Roman',serif;font-weight:bold;stroke:#222;stroke-width:0.25px;text-rendering:geometricPrecision;font-size:6.7px" fill="#222">53°E</text>
<text x="250.9" y="275.5" text-anchor="middle" style="font-family:'Liberation Serif','Times New Roman',serif;font-weight:bold;stroke:#222;stroke-width:0.25px;text-rendering:geometricPrecision;font-size:6.7px" fill="#222">53°E</text>
<text x="278.6" y="156.7" text-anchor="middle" style="font-family:'Liberation Serif','Times New Roman',serif;font-weight:bold;stroke:#222;stroke-width:0.25px;text-rendering:geometricPrecision;font-size:6.7px" fill="#222">54°E</text>
<text x="276.1" y="275.5" text-anchor="middle" style="font-family:'Liberation Serif','Times New Roman',serif;font-weight:bold;stroke:#222;stroke-width:0.25px;text-rendering:geometricPrecision;font-size:6.7px" fill="#222">54°E</text>
<text x="303.2" y="156.7" text-anchor="middle" style="font-family:'Liberation Serif','Times New Roman',serif;font-weight:bold;stroke:#222;stroke-width:0.25px;text-rendering:geometricPrecision;font-size:6.7px" fill="#222">55°E</text>
<text x="301.9" y="275.5" text-anchor="middle" style="font-family:'Liberation Serif','Times New Roman',serif;font-weight:bold;stroke:#222;stroke-width:0.25px;text-rendering:geometricPrecision;font-size:6.7px" fill="#222">55°E</text>
<text x="327.9" y="156.7" text-anchor="middle" style="font-family:'Liberation Serif','Times New Roman',serif;font-weight:bold;stroke:#222;stroke-width:0.25px;text-rendering:geometricPrecision;font-size:6.7px" fill="#222">56°E</text>
<text x="327.6" y="275.5" text-anchor="middle" style="font-family:'Liberation Serif','Times New Roman',serif;font-weight:bold;stroke:#222;stroke-width:0.25px;text-rendering:geometricPrecision;font-size:6.7px" fill="#222">56°E</text>
<text x="352.7" y="156.7" text-anchor="middle" style="font-family:'Liberation Serif','Times New Roman',serif;font-weight:bold;stroke:#222;stroke-width:0.25px;text-rendering:geometricPrecision;font-size:6.7px" fill="#222">57°E</text>
<text x="352.9" y="275.5" text-anchor="middle" style="font-family:'Liberation Serif','Times New Roman',serif;font-weight:bold;stroke:#222;stroke-width:0.25px;text-rendering:geometricPrecision;font-size:6.7px" fill="#222">57°E</text>
<text transform="translate(190.7,164.3) rotate(-90)" x="0" y="2.2" text-anchor="middle" style="font-family:'Liberation Serif','Times New Roman',serif;font-weight:bold;stroke:#222;stroke-width:0.25px;text-rendering:geometricPrecision;font-size:6.7px" fill="#222">26°N</text>
<text transform="translate(361.8,168.3) rotate(-90)" x="0" y="2.2" text-anchor="middle" style="font-family:'Liberation Serif','Times New Roman',serif;font-weight:bold;stroke:#222;stroke-width:0.25px;text-rendering:geometricPrecision;font-size:6.7px" fill="#222">26°N</text>
<text transform="translate(190.7,192.3) rotate(-90)" x="0" y="2.2" text-anchor="middle" style="font-family:'Liberation Serif','Times New Roman',serif;font-weight:bold;stroke:#222;stroke-width:0.25px;text-rendering:geometricPrecision;font-size:6.7px" fill="#222">25°N</text>
<text transform="translate(361.8,195.6) rotate(-90)" x="0" y="2.2" text-anchor="middle" style="font-family:'Liberation Serif','Times New Roman',serif;font-weight:bold;stroke:#222;stroke-width:0.25px;text-rendering:geometricPrecision;font-size:6.7px" fill="#222">25°N</text>
<text transform="translate(190.7,220.1) rotate(-90)" x="0" y="2.2" text-anchor="middle" style="font-family:'Liberation Serif','Times New Roman',serif;font-weight:bold;stroke:#222;stroke-width:0.25px;text-rendering:geometricPrecision;font-size:6.7px" fill="#222">24°N</text>
<text transform="translate(361.8,223.1) rotate(-90)" x="0" y="2.2" text-anchor="middle" style="font-family:'Liberation Serif','Times New Roman',serif;font-weight:bold;stroke:#222;stroke-width:0.25px;text-rendering:geometricPrecision;font-size:6.7px" fill="#222">24°N</text>
<text transform="translate(190.7,248.0) rotate(-90)" x="0" y="2.2" text-anchor="middle" style="font-family:'Liberation Serif','Times New Roman',serif;font-weight:bold;stroke:#222;stroke-width:0.25px;text-rendering:geometricPrecision;font-size:6.7px" fill="#222">23°N</text>
<text transform="translate(361.8,250.1) rotate(-90)" x="0" y="2.2" text-anchor="middle" style="font-family:'Liberation Serif','Times New Roman',serif;font-weight:bold;stroke:#222;stroke-width:0.25px;text-rendering:geometricPrecision;font-size:6.7px" fill="#222">23°N</text>
<text x="268.55" y="174.5" text-anchor="middle" style="font-family:'Liberation Serif','Times New Roman',serif;font-weight:bold;stroke:#222;stroke-width:0.25px;text-rendering:geometricPrecision;font-size:8.8px" fill="#111">PERSIANN-CDR</text>
<text x="200.1" y="263.1" style="font-family:'Liberation Serif','Times New Roman',serif;font-weight:bold;stroke:#222;stroke-width:0.25px;text-rendering:geometricPrecision;font-size:10.5px" fill="#111">(e)</text>
<text x="383" y="149" style="font-family:'Liberation Serif','Times New Roman',serif;font-weight:bold;stroke:#222;stroke-width:0.25px;text-rendering:geometricPrecision;font-size:7.45px" fill="#222">Annual Rainfall Average</text>
<text x="383" y="159.6" style="font-family:'Liberation Serif','Times New Roman',serif;font-weight:bold;stroke:#222;stroke-width:0.25px;text-rendering:geometricPrecision;font-size:7.5px" fill="#222">mm</text>
<rect x="383.2" y="164.50" width="16.2" height="8.4" fill="#fdf0fa" stroke="#b0a0a0" stroke-width="0.4"/>
<text x="402.3" y="171.50" style="font-family:'Liberation Serif','Times New Roman',serif;font-weight:bold;stroke:#222;stroke-width:0.25px;text-rendering:geometricPrecision;font-size:7.7px" fill="#222">120–140</text>
<rect x="383.2" y="175.75" width="16.2" height="8.4" fill="#f4bccc" stroke="#b0a0a0" stroke-width="0.4"/>
<text x="402.3" y="182.75" style="font-family:'Liberation Serif','Times New Roman',serif;font-weight:bold;stroke:#222;stroke-width:0.25px;text-rendering:geometricPrecision;font-size:7.7px" fill="#222">93–110</text>
<rect x="383.2" y="187.00" width="16.2" height="8.4" fill="#d98c82" stroke="#b0a0a0" stroke-width="0.4"/>
<text x="402.3" y="194.00" style="font-family:'Liberation Serif','Times New Roman',serif;font-weight:bold;stroke:#222;stroke-width:0.25px;text-rendering:geometricPrecision;font-size:7.7px" fill="#222">79 –92</text>
<rect x="383.2" y="198.25" width="16.2" height="8.4" fill="#e29c7e" stroke="#b0a0a0" stroke-width="0.4"/>
<text x="402.3" y="205.25" style="font-family:'Liberation Serif','Times New Roman',serif;font-weight:bold;stroke:#222;stroke-width:0.25px;text-rendering:geometricPrecision;font-size:7.7px" fill="#222">66 –78</text>
<rect x="383.2" y="209.50" width="16.2" height="8.4" fill="#f4b27c" stroke="#b0a0a0" stroke-width="0.4"/>
<text x="402.3" y="216.50" style="font-family:'Liberation Serif','Times New Roman',serif;font-weight:bold;stroke:#222;stroke-width:0.25px;text-rendering:geometricPrecision;font-size:7.7px" fill="#222">56–65</text>
<rect x="383.2" y="220.75" width="16.2" height="8.4" fill="#f9d38a" stroke="#b0a0a0" stroke-width="0.4"/>
<text x="402.3" y="227.75" style="font-family:'Liberation Serif','Times New Roman',serif;font-weight:bold;stroke:#222;stroke-width:0.25px;text-rendering:geometricPrecision;font-size:7.7px" fill="#222">46 –55</text>
<rect x="383.2" y="232.00" width="16.2" height="8.4" fill="#f8e393" stroke="#b0a0a0" stroke-width="0.4"/>
<text x="402.3" y="239.00" style="font-family:'Liberation Serif','Times New Roman',serif;font-weight:bold;stroke:#222;stroke-width:0.25px;text-rendering:geometricPrecision;font-size:7.7px" fill="#222">36 –45</text>
<rect x="383.2" y="243.25" width="16.2" height="8.4" fill="#e3e89a" stroke="#b0a0a0" stroke-width="0.4"/>
<text x="402.3" y="250.25" style="font-family:'Liberation Serif','Times New Roman',serif;font-weight:bold;stroke:#222;stroke-width:0.25px;text-rendering:geometricPrecision;font-size:7.7px" fill="#222">26 –35</text>
<rect x="383.2" y="254.50" width="16.2" height="8.4" fill="#9dc567" stroke="#b0a0a0" stroke-width="0.4"/>
<text x="402.3" y="261.50" style="font-family:'Liberation Serif','Times New Roman',serif;font-weight:bold;stroke:#222;stroke-width:0.25px;text-rendering:geometricPrecision;font-size:7.7px" fill="#222">20 –25</text>
<rect x="383.2" y="265.75" width="16.2" height="8.4" fill="#58a04e" stroke="#b0a0a0" stroke-width="0.4"/>
<text x="402.3" y="272.75" style="font-family:'Liberation Serif','Times New Roman',serif;font-weight:bold;stroke:#222;stroke-width:0.25px;text-rendering:geometricPrecision;font-size:7.7px" fill="#222">19</text>
<path d="M479.90000000000003,184.0 L481.8,174.3 L481.8,184.0Z" fill="#111"/>
<path d="M483.7,184.0 L481.8,174.3 L481.8,184.0Z" fill="#777"/>
<path d="M483.7,196.0 L481.8,205.2 L481.8,196.0Z" fill="#111"/>
<path d="M479.90000000000003,196.0 L481.8,205.2 L481.8,196.0Z" fill="#777"/>
<path d="M487.8,188.1 L496.8,190.0 L487.8,190.0Z" fill="#111"/>
<path d="M487.8,191.9 L496.8,190.0 L487.8,190.0Z" fill="#777"/>
<path d="M475.8,191.9 L466.6,190.0 L475.8,190.0Z" fill="#111"/>
<path d="M475.8,188.1 L466.6,190.0 L475.8,190.0Z" fill="#777"/>
<circle cx="481.8" cy="190.0" r="7.0" fill="#fff" stroke="#111" stroke-width="1.6"/>
<text x="481.8" y="171.6" text-anchor="middle" style="font-family:'Liberation Sans',Arial,sans-serif;text-rendering:geometricPrecision;font-size:5.6px" fill="#333">N</text>
<text x="481.8" y="212.3" text-anchor="middle" style="font-family:'Liberation Sans',Arial,sans-serif;text-rendering:geometricPrecision;font-size:5.6px" fill="#333">S</text>
<text x="501.2" y="192.1" text-anchor="middle" style="font-family:'Liberation Sans',Arial,sans-serif;text-rendering:geometricPrecision;font-size:5.6px" fill="#333">E</text>
<text x="462.1" y="192.1" text-anchor="middle" style="font-family:'Liberation Sans',Arial,sans-serif;text-rendering:geometricPrecision;font-size:5.6px" fill="#333">W</text>
<rect x="361.40" y="292.7" width="8.97" height="2.5" fill="#111"/>
<rect x="370.37" y="292.7" width="8.97" height="2.5" fill="#d4d4d4"/>
<rect x="379.34" y="292.7" width="8.97" height="2.5" fill="#111"/>
<rect x="388.31" y="292.7" width="8.97" height="2.5" fill="#d4d4d4"/>
<rect x="397.27" y="292.7" width="35.88" height="2.5" fill="#111"/>
<rect x="433.15" y="292.7" width="35.88" height="2.5" fill="#d4d4d4"/>
<rect x="469.02" y="292.7" width="35.88" height="2.5" fill="#111"/>
<rect x="361.40" y="292.7" width="143.50" height="2.5" fill="none" stroke="#666" stroke-width="0.3"/>
<text x="361.4" y="289" text-anchor="middle" style="font-family:'Liberation Serif','Times New Roman',serif;font-weight:bold;stroke:#222;stroke-width:0.25px;text-rendering:geometricPrecision;font-size:6.9px" fill="#222">0</text>
<text x="379.3" y="289" text-anchor="middle" style="font-family:'Liberation Serif','Times New Roman',serif;font-weight:bold;stroke:#222;stroke-width:0.25px;text-rendering:geometricPrecision;font-size:6.9px" fill="#222">75</text>
<text x="397.3" y="289" text-anchor="middle" style="font-family:'Liberation Serif','Times New Roman',serif;font-weight:bold;stroke:#222;stroke-width:0.25px;text-rendering:geometricPrecision;font-size:6.9px" fill="#222">150</text>
<text x="433.1" y="289" text-anchor="middle" style="font-family:'Liberation Serif','Times New Roman',serif;font-weight:bold;stroke:#222;stroke-width:0.25px;text-rendering:geometricPrecision;font-size:6.9px" fill="#222">300</text>
<text x="469.0" y="289" text-anchor="middle" style="font-family:'Liberation Serif','Times New Roman',serif;font-weight:bold;stroke:#222;stroke-width:0.25px;text-rendering:geometricPrecision;font-size:6.9px" fill="#222">450</text>
<text x="504.9" y="289" text-anchor="middle" style="font-family:'Liberation Serif','Times New Roman',serif;font-weight:bold;stroke:#222;stroke-width:0.25px;text-rendering:geometricPrecision;font-size:6.9px" fill="#222">600</text>
<text x="509.6" y="294.8" style="font-family:'Liberation Serif','Times New Roman',serif;font-weight:bold;stroke:#222;stroke-width:0.25px;text-rendering:geometricPrecision;font-size:7px" fill="#222">Kms</text>
</svg></body></html>
